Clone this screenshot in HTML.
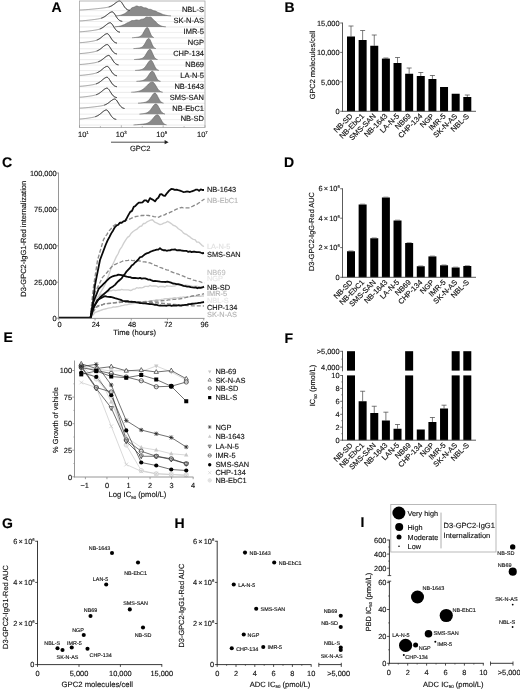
<!DOCTYPE html>
<html lang="en"><head><meta charset="utf-8"><title>Figure</title>
<style>
html,body{margin:0;padding:0;background:#fff;}
body{width:520px;height:689px;overflow:hidden;}
svg{display:block;font-family:"Liberation Sans",sans-serif;text-rendering:geometricPrecision;}
text{stroke-width:0.14px;paint-order:stroke;}
</style></head><body>
<svg width="520" height="689" viewBox="0 0 520 689">
<rect width="520" height="689" fill="#ffffff"/>
<g style="filter:blur(0.35px)">
<text x="51.40" y="11.60" font-size="14" font-weight="bold" fill="#000" stroke="#000">A</text>
<text x="284.60" y="11.60" font-size="14" font-weight="bold" fill="#000" stroke="#000">B</text>
<text x="1.90" y="167.10" font-size="14" font-weight="bold" fill="#000" stroke="#000">C</text>
<text x="284.10" y="167.10" font-size="14" font-weight="bold" fill="#000" stroke="#000">D</text>
<text x="3.50" y="342.10" font-size="14" font-weight="bold" fill="#000" stroke="#000">E</text>
<text x="284.50" y="343.10" font-size="14" font-weight="bold" fill="#000" stroke="#000">F</text>
<text x="2.00" y="527.60" font-size="14" font-weight="bold" fill="#000" stroke="#000">G</text>
<text x="174.50" y="527.60" font-size="14" font-weight="bold" fill="#000" stroke="#000">H</text>
<text x="360.40" y="527.10" font-size="14" font-weight="bold" fill="#000" stroke="#000">I</text>
<g id="panelA">
<line x1="79.50" y1="10.60" x2="205.00" y2="10.60" stroke="#dedede" stroke-width="0.5"/>
<line x1="79.50" y1="16.05" x2="205.00" y2="16.05" stroke="#d4d4d4" stroke-width="0.5"/>
<line x1="79.50" y1="21.50" x2="205.00" y2="21.50" stroke="#dedede" stroke-width="0.5"/>
<line x1="79.50" y1="26.95" x2="205.00" y2="26.95" stroke="#d4d4d4" stroke-width="0.5"/>
<line x1="79.50" y1="32.40" x2="205.00" y2="32.40" stroke="#dedede" stroke-width="0.5"/>
<line x1="79.50" y1="37.85" x2="205.00" y2="37.85" stroke="#d4d4d4" stroke-width="0.5"/>
<line x1="79.50" y1="43.30" x2="205.00" y2="43.30" stroke="#dedede" stroke-width="0.5"/>
<line x1="79.50" y1="48.75" x2="205.00" y2="48.75" stroke="#d4d4d4" stroke-width="0.5"/>
<line x1="79.50" y1="54.20" x2="205.00" y2="54.20" stroke="#dedede" stroke-width="0.5"/>
<line x1="79.50" y1="59.65" x2="205.00" y2="59.65" stroke="#d4d4d4" stroke-width="0.5"/>
<line x1="79.50" y1="65.10" x2="205.00" y2="65.10" stroke="#dedede" stroke-width="0.5"/>
<line x1="79.50" y1="70.55" x2="205.00" y2="70.55" stroke="#d4d4d4" stroke-width="0.5"/>
<line x1="79.50" y1="76.00" x2="205.00" y2="76.00" stroke="#dedede" stroke-width="0.5"/>
<line x1="79.50" y1="81.45" x2="205.00" y2="81.45" stroke="#d4d4d4" stroke-width="0.5"/>
<line x1="79.50" y1="86.90" x2="205.00" y2="86.90" stroke="#dedede" stroke-width="0.5"/>
<line x1="79.50" y1="92.35" x2="205.00" y2="92.35" stroke="#d4d4d4" stroke-width="0.5"/>
<line x1="79.50" y1="97.80" x2="205.00" y2="97.80" stroke="#dedede" stroke-width="0.5"/>
<line x1="79.50" y1="103.25" x2="205.00" y2="103.25" stroke="#d4d4d4" stroke-width="0.5"/>
<line x1="79.50" y1="108.70" x2="205.00" y2="108.70" stroke="#dedede" stroke-width="0.5"/>
<line x1="79.50" y1="114.15" x2="205.00" y2="114.15" stroke="#d4d4d4" stroke-width="0.5"/>
<line x1="79.50" y1="119.60" x2="205.00" y2="119.60" stroke="#dedede" stroke-width="0.5"/>
<line x1="79.50" y1="125.05" x2="205.00" y2="125.05" stroke="#d4d4d4" stroke-width="0.5"/>
<polygon points="115.50,16.05 115.50,15.92 116.25,15.87 117.00,15.81 117.75,15.73 118.50,15.64 119.25,15.53 120.00,15.39 120.75,15.19 121.50,14.93 122.25,14.65 123.00,14.37 123.75,14.07 124.50,13.71 125.25,13.23 126.00,12.64 126.75,12.02 127.50,11.47 128.25,11.01 129.00,10.54 129.75,9.92 130.50,9.14 131.25,8.35 132.00,7.77 132.75,7.47 133.50,7.32 134.25,7.07 135.00,6.64 135.75,6.18 136.50,5.94 137.25,6.04 138.00,6.36 138.75,6.63 139.50,6.66 140.25,6.52 141.00,6.44 141.75,6.64 142.50,7.08 143.25,7.55 144.00,7.83 144.75,7.87 145.50,7.85 146.25,7.99 147.00,8.34 147.75,8.80 148.50,9.15 149.25,9.30 150.00,9.31 150.75,9.38 151.50,9.64 152.25,10.05 153.00,10.45 153.75,10.71 154.50,10.86 155.25,11.00 156.00,11.28 156.75,11.70 157.50,12.17 158.25,12.56 159.00,12.85 159.75,13.09 160.50,13.37 161.25,13.71 162.00,14.08 162.75,14.40 163.50,14.64 164.25,14.83 165.00,15.01 165.75,15.18 166.50,15.36 167.25,15.51 168.00,15.63 168.75,15.71 169.50,15.78 170.25,15.83 171.00,15.89 171.00,16.05" fill="#8a8a8a"/>
<polyline points="115.50,15.92 116.25,15.87 117.00,15.81 117.75,15.73 118.50,15.64 119.25,15.53 120.00,15.39 120.75,15.19 121.50,14.93 122.25,14.65 123.00,14.37 123.75,14.07 124.50,13.71 125.25,13.23 126.00,12.64 126.75,12.02 127.50,11.47 128.25,11.01 129.00,10.54 129.75,9.92 130.50,9.14 131.25,8.35 132.00,7.77 132.75,7.47 133.50,7.32 134.25,7.07 135.00,6.64 135.75,6.18 136.50,5.94 137.25,6.04 138.00,6.36 138.75,6.63 139.50,6.66 140.25,6.52 141.00,6.44 141.75,6.64 142.50,7.08 143.25,7.55 144.00,7.83 144.75,7.87 145.50,7.85 146.25,7.99 147.00,8.34 147.75,8.80 148.50,9.15 149.25,9.30 150.00,9.31 150.75,9.38 151.50,9.64 152.25,10.05 153.00,10.45 153.75,10.71 154.50,10.86 155.25,11.00 156.00,11.28 156.75,11.70 157.50,12.17 158.25,12.56 159.00,12.85 159.75,13.09 160.50,13.37 161.25,13.71 162.00,14.08 162.75,14.40 163.50,14.64 164.25,14.83 165.00,15.01 165.75,15.18 166.50,15.36 167.25,15.51 168.00,15.63 168.75,15.71 169.50,15.78 170.25,15.83 171.00,15.89" fill="none" stroke="#5e5e5e" stroke-width="0.6" stroke-linejoin="round"/>
<polygon points="114.75,26.95 114.75,26.81 115.50,26.76 116.25,26.69 117.00,26.61 117.75,26.51 118.50,26.41 119.25,26.29 120.00,26.12 120.75,25.90 121.50,25.64 122.25,25.36 123.00,25.10 123.75,24.84 124.50,24.52 125.25,24.11 126.00,23.62 126.75,23.14 127.50,22.75 128.25,22.47 129.00,22.19 129.75,21.81 130.50,21.33 131.25,20.86 132.00,20.58 132.75,20.51 133.50,20.55 134.25,20.50 135.00,20.30 135.75,20.05 136.50,19.91 137.25,19.99 138.00,20.18 138.75,20.28 139.50,20.16 140.25,19.83 141.00,19.47 141.75,19.23 142.50,19.15 143.25,19.06 144.00,18.77 144.75,18.23 145.50,17.60 146.25,17.15 147.00,17.04 147.75,17.17 148.50,17.27 149.25,17.20 150.00,17.05 150.75,17.13 151.50,17.62 152.25,18.45 153.00,19.33 153.75,20.08 154.50,20.69 155.25,21.32 156.00,22.07 156.75,22.92 157.50,23.72 158.25,24.37 159.00,24.87 159.75,25.27 160.50,25.63 161.25,25.96 162.00,26.24 162.75,26.45 163.50,26.59 164.25,26.69 165.00,26.77 165.75,26.83 165.75,26.95" fill="#8a8a8a"/>
<polyline points="114.75,26.81 115.50,26.76 116.25,26.69 117.00,26.61 117.75,26.51 118.50,26.41 119.25,26.29 120.00,26.12 120.75,25.90 121.50,25.64 122.25,25.36 123.00,25.10 123.75,24.84 124.50,24.52 125.25,24.11 126.00,23.62 126.75,23.14 127.50,22.75 128.25,22.47 129.00,22.19 129.75,21.81 130.50,21.33 131.25,20.86 132.00,20.58 132.75,20.51 133.50,20.55 134.25,20.50 135.00,20.30 135.75,20.05 136.50,19.91 137.25,19.99 138.00,20.18 138.75,20.28 139.50,20.16 140.25,19.83 141.00,19.47 141.75,19.23 142.50,19.15 143.25,19.06 144.00,18.77 144.75,18.23 145.50,17.60 146.25,17.15 147.00,17.04 147.75,17.17 148.50,17.27 149.25,17.20 150.00,17.05 150.75,17.13 151.50,17.62 152.25,18.45 153.00,19.33 153.75,20.08 154.50,20.69 155.25,21.32 156.00,22.07 156.75,22.92 157.50,23.72 158.25,24.37 159.00,24.87 159.75,25.27 160.50,25.63 161.25,25.96 162.00,26.24 162.75,26.45 163.50,26.59 164.25,26.69 165.00,26.77 165.75,26.83" fill="none" stroke="#5e5e5e" stroke-width="0.6" stroke-linejoin="round"/>
<polygon points="132.00,37.85 132.00,37.73 132.75,37.69 133.50,37.64 134.25,37.58 135.00,37.51 135.75,37.43 136.50,37.34 137.25,37.24 138.00,37.11 138.75,36.95 139.50,36.72 140.25,36.37 141.00,35.87 141.75,35.14 142.50,34.18 143.25,32.97 144.00,31.60 144.75,30.17 145.50,28.88 146.25,27.93 147.00,27.49 147.75,27.70 148.50,28.78 149.25,30.49 150.00,32.42 150.75,34.21 151.50,35.63 152.25,36.62 153.00,37.23 153.75,37.57 153.75,37.85" fill="#8a8a8a"/>
<polyline points="132.00,37.73 132.75,37.69 133.50,37.64 134.25,37.58 135.00,37.51 135.75,37.43 136.50,37.34 137.25,37.24 138.00,37.11 138.75,36.95 139.50,36.72 140.25,36.37 141.00,35.87 141.75,35.14 142.50,34.18 143.25,32.97 144.00,31.60 144.75,30.17 145.50,28.88 146.25,27.93 147.00,27.49 147.75,27.70 148.50,28.78 149.25,30.49 150.00,32.42 150.75,34.21 151.50,35.63 152.25,36.62 153.00,37.23 153.75,37.57" fill="none" stroke="#5e5e5e" stroke-width="0.6" stroke-linejoin="round"/>
<polygon points="133.50,48.75 133.50,48.60 134.25,48.56 135.00,48.50 135.75,48.43 136.50,48.36 137.25,48.28 138.00,48.19 138.75,48.09 139.50,47.96 140.25,47.80 141.00,47.58 141.75,47.25 142.50,46.75 143.25,46.05 144.00,45.10 144.75,43.91 145.50,42.55 146.25,41.13 147.00,39.85 147.75,38.90 148.50,38.45 149.25,38.65 150.00,39.64 150.75,41.24 151.50,43.07 152.25,44.83 153.00,46.27 153.75,47.32 154.50,47.99 155.25,48.38 156.00,48.59 156.00,48.75" fill="#8a8a8a"/>
<polyline points="133.50,48.60 134.25,48.56 135.00,48.50 135.75,48.43 136.50,48.36 137.25,48.28 138.00,48.19 138.75,48.09 139.50,47.96 140.25,47.80 141.00,47.58 141.75,47.25 142.50,46.75 143.25,46.05 144.00,45.10 144.75,43.91 145.50,42.55 146.25,41.13 147.00,39.85 147.75,38.90 148.50,38.45 149.25,38.65 150.00,39.64 150.75,41.24 151.50,43.07 152.25,44.83 153.00,46.27 153.75,47.32 154.50,47.99 155.25,48.38 156.00,48.59" fill="none" stroke="#5e5e5e" stroke-width="0.6" stroke-linejoin="round"/>
<polygon points="134.25,59.65 134.25,59.52 135.00,59.47 135.75,59.42 136.50,59.36 137.25,59.28 138.00,59.20 138.75,59.11 139.50,59.00 140.25,58.87 141.00,58.71 141.75,58.48 142.50,58.15 143.25,57.68 144.00,57.03 144.75,56.16 145.50,55.09 146.25,53.85 147.00,52.53 147.75,51.26 148.50,50.21 149.25,49.54 150.00,49.36 150.75,49.84 151.50,51.03 152.25,52.67 153.00,54.44 153.75,56.07 154.50,57.39 155.25,58.33 156.00,58.94 156.75,59.30 157.50,59.49 157.50,59.65" fill="#8a8a8a"/>
<polyline points="134.25,59.52 135.00,59.47 135.75,59.42 136.50,59.36 137.25,59.28 138.00,59.20 138.75,59.11 139.50,59.00 140.25,58.87 141.00,58.71 141.75,58.48 142.50,58.15 143.25,57.68 144.00,57.03 144.75,56.16 145.50,55.09 146.25,53.85 147.00,52.53 147.75,51.26 148.50,50.21 149.25,49.54 150.00,49.36 150.75,49.84 151.50,51.03 152.25,52.67 153.00,54.44 153.75,56.07 154.50,57.39 155.25,58.33 156.00,58.94 156.75,59.30 157.50,59.49" fill="none" stroke="#5e5e5e" stroke-width="0.6" stroke-linejoin="round"/>
<polygon points="135.00,70.55 135.00,70.43 135.75,70.39 136.50,70.33 137.25,70.27 138.00,70.20 138.75,70.11 139.50,70.00 140.25,69.86 141.00,69.69 141.75,69.45 142.50,69.14 143.25,68.72 144.00,68.16 144.75,67.44 145.50,66.54 146.25,65.51 147.00,64.36 147.75,63.19 148.50,62.08 149.25,61.15 150.00,60.52 150.75,60.25 151.50,60.47 152.25,61.32 153.00,62.68 153.75,64.29 154.50,65.92 155.25,67.36 156.00,68.50 156.75,69.32 157.50,69.87 158.25,70.20 159.00,70.38 159.00,70.55" fill="#8a8a8a"/>
<polyline points="135.00,70.43 135.75,70.39 136.50,70.33 137.25,70.27 138.00,70.20 138.75,70.11 139.50,70.00 140.25,69.86 141.00,69.69 141.75,69.45 142.50,69.14 143.25,68.72 144.00,68.16 144.75,67.44 145.50,66.54 146.25,65.51 147.00,64.36 147.75,63.19 148.50,62.08 149.25,61.15 150.00,60.52 150.75,60.25 151.50,60.47 152.25,61.32 153.00,62.68 153.75,64.29 154.50,65.92 155.25,67.36 156.00,68.50 156.75,69.32 157.50,69.87 158.25,70.20 159.00,70.38" fill="none" stroke="#5e5e5e" stroke-width="0.6" stroke-linejoin="round"/>
<polygon points="136.50,81.45 136.50,81.30 137.25,81.25 138.00,81.20 138.75,81.13 139.50,81.05 140.25,80.95 141.00,80.84 141.75,80.71 142.50,80.53 143.25,80.31 144.00,80.00 144.75,79.59 145.50,79.04 146.25,78.34 147.00,77.46 147.75,76.44 148.50,75.32 149.25,74.15 150.00,73.05 150.75,72.12 151.50,71.48 152.25,71.21 153.00,71.41 153.75,72.26 154.50,73.61 155.25,75.21 156.00,76.83 156.75,78.27 157.50,79.41 158.25,80.23 159.00,80.77 159.75,81.10 160.50,81.28 160.50,81.45" fill="#8a8a8a"/>
<polyline points="136.50,81.30 137.25,81.25 138.00,81.20 138.75,81.13 139.50,81.05 140.25,80.95 141.00,80.84 141.75,80.71 142.50,80.53 143.25,80.31 144.00,80.00 144.75,79.59 145.50,79.04 146.25,78.34 147.00,77.46 147.75,76.44 148.50,75.32 149.25,74.15 150.00,73.05 150.75,72.12 151.50,71.48 152.25,71.21 153.00,71.41 153.75,72.26 154.50,73.61 155.25,75.21 156.00,76.83 156.75,78.27 157.50,79.41 158.25,80.23 159.00,80.77 159.75,81.10 160.50,81.28" fill="none" stroke="#5e5e5e" stroke-width="0.6" stroke-linejoin="round"/>
<polygon points="131.25,92.35 131.25,92.22 132.00,92.18 132.75,92.14 133.50,92.08 134.25,92.01 135.00,91.93 135.75,91.83 136.50,91.71 137.25,91.58 138.00,91.42 138.75,91.23 139.50,91.00 140.25,90.74 141.00,90.42 141.75,90.05 142.50,89.61 143.25,89.10 144.00,88.52 144.75,87.87 145.50,87.16 146.25,86.41 147.00,85.63 147.75,84.86 148.50,84.11 149.25,83.43 150.00,82.86 150.75,82.42 151.50,82.14 152.25,82.05 153.00,82.21 153.75,82.76 154.50,83.65 155.25,84.79 156.00,86.05 156.75,87.32 157.50,88.51 158.25,89.54 159.00,90.38 159.75,91.03 160.50,91.50 161.25,91.83 162.00,92.04 162.75,92.18 162.75,92.35" fill="#8a8a8a"/>
<polyline points="131.25,92.22 132.00,92.18 132.75,92.14 133.50,92.08 134.25,92.01 135.00,91.93 135.75,91.83 136.50,91.71 137.25,91.58 138.00,91.42 138.75,91.23 139.50,91.00 140.25,90.74 141.00,90.42 141.75,90.05 142.50,89.61 143.25,89.10 144.00,88.52 144.75,87.87 145.50,87.16 146.25,86.41 147.00,85.63 147.75,84.86 148.50,84.11 149.25,83.43 150.00,82.86 150.75,82.42 151.50,82.14 152.25,82.05 153.00,82.21 153.75,82.76 154.50,83.65 155.25,84.79 156.00,86.05 156.75,87.32 157.50,88.51 158.25,89.54 159.00,90.38 159.75,91.03 160.50,91.50 161.25,91.83 162.00,92.04 162.75,92.18" fill="none" stroke="#5e5e5e" stroke-width="0.6" stroke-linejoin="round"/>
<polygon points="138.00,103.25 138.00,103.13 138.75,103.09 139.50,103.04 140.25,102.98 141.00,102.91 141.75,102.83 142.50,102.73 143.25,102.63 144.00,102.50 144.75,102.35 145.50,102.15 146.25,101.88 147.00,101.52 147.75,101.03 148.50,100.40 149.25,99.60 150.00,98.64 150.75,97.56 151.50,96.40 152.25,95.27 153.00,94.27 153.75,93.51 154.50,93.11 155.25,93.11 156.00,93.67 156.75,94.73 157.50,96.13 158.25,97.66 159.00,99.12 159.75,100.38 160.50,101.38 161.25,102.10 162.00,102.59 162.75,102.89 163.50,103.07 163.50,103.25" fill="#8a8a8a"/>
<polyline points="138.00,103.13 138.75,103.09 139.50,103.04 140.25,102.98 141.00,102.91 141.75,102.83 142.50,102.73 143.25,102.63 144.00,102.50 144.75,102.35 145.50,102.15 146.25,101.88 147.00,101.52 147.75,101.03 148.50,100.40 149.25,99.60 150.00,98.64 150.75,97.56 151.50,96.40 152.25,95.27 153.00,94.27 153.75,93.51 154.50,93.11 155.25,93.11 156.00,93.67 156.75,94.73 157.50,96.13 158.25,97.66 159.00,99.12 159.75,100.38 160.50,101.38 161.25,102.10 162.00,102.59 162.75,102.89 163.50,103.07" fill="none" stroke="#5e5e5e" stroke-width="0.6" stroke-linejoin="round"/>
<polygon points="139.50,114.15 139.50,114.00 140.25,113.95 141.00,113.90 141.75,113.83 142.50,113.75 143.25,113.65 144.00,113.54 144.75,113.40 145.50,113.23 146.25,113.00 147.00,112.71 147.75,112.33 148.50,111.83 149.25,111.19 150.00,110.40 150.75,109.48 151.50,108.45 152.25,107.36 153.00,106.28 153.75,105.31 154.50,104.55 155.25,104.08 156.00,103.96 156.75,104.28 157.50,105.10 158.25,106.28 159.00,107.67 159.75,109.09 160.50,110.42 161.25,111.54 162.00,112.42 162.75,113.07 163.50,113.51 164.25,113.79 165.00,113.96 165.00,114.15" fill="#8a8a8a"/>
<polyline points="139.50,114.00 140.25,113.95 141.00,113.90 141.75,113.83 142.50,113.75 143.25,113.65 144.00,113.54 144.75,113.40 145.50,113.23 146.25,113.00 147.00,112.71 147.75,112.33 148.50,111.83 149.25,111.19 150.00,110.40 150.75,109.48 151.50,108.45 152.25,107.36 153.00,106.28 153.75,105.31 154.50,104.55 155.25,104.08 156.00,103.96 156.75,104.28 157.50,105.10 158.25,106.28 159.00,107.67 159.75,109.09 160.50,110.42 161.25,111.54 162.00,112.42 162.75,113.07 163.50,113.51 164.25,113.79 165.00,113.96" fill="none" stroke="#5e5e5e" stroke-width="0.6" stroke-linejoin="round"/>
<polygon points="133.50,125.05 133.50,124.91 134.25,124.88 135.00,124.84 135.75,124.79 136.50,124.74 137.25,124.68 138.00,124.62 138.75,124.55 139.50,124.47 140.25,124.40 141.00,124.31 141.75,124.23 142.50,124.14 143.25,124.04 144.00,123.94 144.75,123.82 145.50,123.68 146.25,123.51 147.00,123.28 147.75,122.99 148.50,122.62 149.25,122.16 150.00,121.60 150.75,120.94 151.50,120.16 152.25,119.31 153.00,118.39 153.75,117.48 154.50,116.61 155.25,115.86 156.00,115.28 156.75,114.93 157.50,114.85 158.25,115.17 159.00,115.98 159.75,117.16 160.50,118.55 161.25,119.98 162.00,121.31 162.75,122.43 163.50,123.32 164.25,123.96 165.00,124.40 165.75,124.69 166.50,124.86 166.50,125.05" fill="#8a8a8a"/>
<polyline points="133.50,124.91 134.25,124.88 135.00,124.84 135.75,124.79 136.50,124.74 137.25,124.68 138.00,124.62 138.75,124.55 139.50,124.47 140.25,124.40 141.00,124.31 141.75,124.23 142.50,124.14 143.25,124.04 144.00,123.94 144.75,123.82 145.50,123.68 146.25,123.51 147.00,123.28 147.75,122.99 148.50,122.62 149.25,122.16 150.00,121.60 150.75,120.94 151.50,120.16 152.25,119.31 153.00,118.39 153.75,117.48 154.50,116.61 155.25,115.86 156.00,115.28 156.75,114.93 157.50,114.85 158.25,115.17 159.00,115.98 159.75,117.16 160.50,118.55 161.25,119.98 162.00,121.31 162.75,122.43 163.50,123.32 164.25,123.96 165.00,124.40 165.75,124.69 166.50,124.86" fill="none" stroke="#5e5e5e" stroke-width="0.6" stroke-linejoin="round"/>
<polyline points="79.50,10.00 80.25,9.98 81.00,9.96 81.75,9.93 82.50,9.89 83.25,9.85 84.00,9.80 84.75,9.76 85.50,9.71 86.25,9.65 87.00,9.60 87.75,9.54 88.50,9.48 89.25,9.42 90.00,9.35 90.75,9.29 91.50,9.22 92.25,9.15 93.00,9.08 93.75,9.01 94.50,8.94 95.25,8.86 96.00,8.78 96.75,8.71 97.50,8.63 98.25,8.55 99.00,8.46 99.75,8.38 100.50,8.30 101.25,8.21 102.00,8.12 102.75,8.03 103.50,7.93 104.25,7.84 105.00,7.73 105.75,7.61 106.50,7.49 107.25,7.34 108.00,7.17 108.75,6.97 109.50,6.73 110.25,6.44 111.00,6.11 111.75,5.71 112.50,5.25 113.25,4.74 114.00,4.19 114.75,3.61 115.50,3.02 116.25,2.45 117.00,1.94 117.75,1.50 118.50,1.16 119.25,0.94 120.00,0.99 120.75,1.47 121.50,2.29 122.25,3.35 123.00,4.55 123.75,5.77 124.50,6.90 125.25,7.89 126.00,8.70 126.75,9.32 127.50,9.78 128.25,10.09 129.00,10.30 129.75,10.43" fill="none" stroke="#7a7a7a" stroke-width="0.7" stroke-linejoin="round"/>
<polyline points="108.75,6.97 109.50,6.73 110.25,6.44 111.00,6.11 111.75,5.71 112.50,5.25 113.25,4.74 114.00,4.19 114.75,3.61 115.50,3.02 116.25,2.45 117.00,1.94 117.75,1.50 118.50,1.16 119.25,0.94 120.00,0.99 120.75,1.47 121.50,2.29 122.25,3.35 123.00,4.55 123.75,5.77 124.50,6.90 125.25,7.89 126.00,8.70 126.75,9.32 127.50,9.78 128.25,10.09 129.00,10.30 129.75,10.43" fill="none" stroke="#333333" stroke-width="0.8" stroke-linejoin="round"/>
<polyline points="79.50,20.90 80.25,20.88 81.00,20.84 81.75,20.80 82.50,20.75 83.25,20.70 84.00,20.64 84.75,20.57 85.50,20.51 86.25,20.43 87.00,20.36 87.75,20.28 88.50,20.20 89.25,20.12 90.00,20.04 90.75,19.95 91.50,19.86 92.25,19.77 93.00,19.67 93.75,19.57 94.50,19.47 95.25,19.37 96.00,19.26 96.75,19.15 97.50,19.03 98.25,18.90 99.00,18.76 99.75,18.59 100.50,18.41 101.25,18.19 102.00,17.93 102.75,17.62 103.50,17.26 104.25,16.85 105.00,16.37 105.75,15.84 106.50,15.26 107.25,14.66 108.00,14.05 108.75,13.46 109.50,12.92 110.25,12.46 111.00,12.09 111.75,11.85 112.50,11.89 113.25,12.37 114.00,13.19 114.75,14.25 115.50,15.45 116.25,16.67 117.00,17.80 117.75,18.79 118.50,19.60 119.25,20.22 120.00,20.68 120.75,20.99 121.50,21.20 122.25,21.33" fill="none" stroke="#7a7a7a" stroke-width="0.7" stroke-linejoin="round"/>
<polyline points="101.25,18.19 102.00,17.93 102.75,17.62 103.50,17.26 104.25,16.85 105.00,16.37 105.75,15.84 106.50,15.26 107.25,14.66 108.00,14.05 108.75,13.46 109.50,12.92 110.25,12.46 111.00,12.09 111.75,11.85 112.50,11.89 113.25,12.37 114.00,13.19 114.75,14.25 115.50,15.45 116.25,16.67 117.00,17.80 117.75,18.79 118.50,19.60 119.25,20.22 120.00,20.68 120.75,20.99 121.50,21.20 122.25,21.33" fill="none" stroke="#333333" stroke-width="0.8" stroke-linejoin="round"/>
<polyline points="79.50,31.80 80.25,31.78 81.00,31.74 81.75,31.69 82.50,31.64 83.25,31.58 84.00,31.51 84.75,31.44 85.50,31.37 86.25,31.29 87.00,31.21 87.75,31.13 88.50,31.04 89.25,30.95 90.00,30.86 90.75,30.76 91.50,30.66 92.25,30.56 93.00,30.45 93.75,30.34 94.50,30.23 95.25,30.11 96.00,29.98 96.75,29.83 97.50,29.67 98.25,29.49 99.00,29.27 99.75,29.02 100.50,28.73 101.25,28.38 102.00,27.98 102.75,27.51 103.50,26.99 104.25,26.42 105.00,25.82 105.75,25.20 106.50,24.59 107.25,24.02 108.00,23.52 108.75,23.12 109.50,22.82 110.25,22.72 111.00,23.07 111.75,23.78 112.50,24.78 113.25,25.95 114.00,27.17 114.75,28.34 115.50,29.38 116.25,30.25 117.00,30.94 117.75,31.44 118.50,31.80 119.25,32.04 120.00,32.20" fill="none" stroke="#7a7a7a" stroke-width="0.7" stroke-linejoin="round"/>
<polyline points="99.75,29.02 100.50,28.73 101.25,28.38 102.00,27.98 102.75,27.51 103.50,26.99 104.25,26.42 105.00,25.82 105.75,25.20 106.50,24.59 107.25,24.02 108.00,23.52 108.75,23.12 109.50,22.82 110.25,22.72 111.00,23.07 111.75,23.78 112.50,24.78 113.25,25.95 114.00,27.17 114.75,28.34 115.50,29.38 116.25,30.25 117.00,30.94 117.75,31.44 118.50,31.80 119.25,32.04 120.00,32.20" fill="none" stroke="#333333" stroke-width="0.8" stroke-linejoin="round"/>
<polyline points="79.50,42.70 80.25,42.67 81.00,42.63 81.75,42.57 82.50,42.51 83.25,42.44 84.00,42.37 84.75,42.29 85.50,42.20 86.25,42.11 87.00,42.02 87.75,41.92 88.50,41.82 89.25,41.71 90.00,41.60 90.75,41.49 91.50,41.37 92.25,41.24 93.00,41.10 93.75,40.95 94.50,40.78 95.25,40.59 96.00,40.36 96.75,40.10 97.50,39.80 98.25,39.44 99.00,39.02 99.75,38.55 100.50,38.02 101.25,37.43 102.00,36.81 102.75,36.18 103.50,35.56 104.25,34.98 105.00,34.46 105.75,34.04 106.50,33.74 107.25,33.62 108.00,33.97 108.75,34.68 109.50,35.68 110.25,36.85 111.00,38.07 111.75,39.24 112.50,40.28 113.25,41.15 114.00,41.84 114.75,42.34 115.50,42.70 116.25,42.94 117.00,43.10" fill="none" stroke="#7a7a7a" stroke-width="0.7" stroke-linejoin="round"/>
<polyline points="96.75,40.10 97.50,39.80 98.25,39.44 99.00,39.02 99.75,38.55 100.50,38.02 101.25,37.43 102.00,36.81 102.75,36.18 103.50,35.56 104.25,34.98 105.00,34.46 105.75,34.04 106.50,33.74 107.25,33.62 108.00,33.97 108.75,34.68 109.50,35.68 110.25,36.85 111.00,38.07 111.75,39.24 112.50,40.28 113.25,41.15 114.00,41.84 114.75,42.34 115.50,42.70 116.25,42.94 117.00,43.10" fill="none" stroke="#333333" stroke-width="0.8" stroke-linejoin="round"/>
<polyline points="79.50,53.60 80.25,53.57 81.00,53.53 81.75,53.47 82.50,53.41 83.25,53.34 84.00,53.27 84.75,53.19 85.50,53.10 86.25,53.01 87.00,52.92 87.75,52.82 88.50,52.72 89.25,52.61 90.00,52.50 90.75,52.39 91.50,52.27 92.25,52.14 93.00,52.00 93.75,51.85 94.50,51.68 95.25,51.49 96.00,51.26 96.75,51.00 97.50,50.70 98.25,50.34 99.00,49.92 99.75,49.45 100.50,48.92 101.25,48.33 102.00,47.71 102.75,47.08 103.50,46.46 104.25,45.88 105.00,45.36 105.75,44.94 106.50,44.64 107.25,44.52 108.00,44.87 108.75,45.58 109.50,46.58 110.25,47.75 111.00,48.97 111.75,50.14 112.50,51.18 113.25,52.05 114.00,52.74 114.75,53.24 115.50,53.60 116.25,53.84 117.00,54.00" fill="none" stroke="#7a7a7a" stroke-width="0.7" stroke-linejoin="round"/>
<polyline points="96.75,51.00 97.50,50.70 98.25,50.34 99.00,49.92 99.75,49.45 100.50,48.92 101.25,48.33 102.00,47.71 102.75,47.08 103.50,46.46 104.25,45.88 105.00,45.36 105.75,44.94 106.50,44.64 107.25,44.52 108.00,44.87 108.75,45.58 109.50,46.58 110.25,47.75 111.00,48.97 111.75,50.14 112.50,51.18 113.25,52.05 114.00,52.74 114.75,53.24 115.50,53.60 116.25,53.84 117.00,54.00" fill="none" stroke="#333333" stroke-width="0.8" stroke-linejoin="round"/>
<polyline points="79.50,64.50 80.25,64.47 81.00,64.43 81.75,64.38 82.50,64.32 83.25,64.26 84.00,64.19 84.75,64.12 85.50,64.04 86.25,63.95 87.00,63.87 87.75,63.78 88.50,63.68 89.25,63.59 90.00,63.49 90.75,63.38 91.50,63.27 92.25,63.16 93.00,63.04 93.75,62.92 94.50,62.78 95.25,62.64 96.00,62.47 96.75,62.28 97.50,62.07 98.25,61.81 99.00,61.51 99.75,61.16 100.50,60.75 101.25,60.28 102.00,59.75 102.75,59.17 103.50,58.56 104.25,57.94 105.00,57.32 105.75,56.75 106.50,56.24 107.25,55.83 108.00,55.53 108.75,55.42 109.50,55.77 110.25,56.48 111.00,57.48 111.75,58.65 112.50,59.87 113.25,61.04 114.00,62.08 114.75,62.95 115.50,63.64 116.25,64.14 117.00,64.50 117.75,64.74 118.50,64.90" fill="none" stroke="#7a7a7a" stroke-width="0.7" stroke-linejoin="round"/>
<polyline points="98.25,61.81 99.00,61.51 99.75,61.16 100.50,60.75 101.25,60.28 102.00,59.75 102.75,59.17 103.50,58.56 104.25,57.94 105.00,57.32 105.75,56.75 106.50,56.24 107.25,55.83 108.00,55.53 108.75,55.42 109.50,55.77 110.25,56.48 111.00,57.48 111.75,58.65 112.50,59.87 113.25,61.04 114.00,62.08 114.75,62.95 115.50,63.64 116.25,64.14 117.00,64.50 117.75,64.74 118.50,64.90" fill="none" stroke="#333333" stroke-width="0.8" stroke-linejoin="round"/>
<polyline points="79.50,75.40 80.25,75.37 81.00,75.33 81.75,75.27 82.50,75.21 83.25,75.14 84.00,75.07 84.75,74.99 85.50,74.90 86.25,74.81 87.00,74.72 87.75,74.62 88.50,74.52 89.25,74.41 90.00,74.30 90.75,74.19 91.50,74.07 92.25,73.94 93.00,73.80 93.75,73.65 94.50,73.48 95.25,73.29 96.00,73.06 96.75,72.80 97.50,72.50 98.25,72.14 99.00,71.72 99.75,71.25 100.50,70.72 101.25,70.13 102.00,69.51 102.75,68.88 103.50,68.26 104.25,67.68 105.00,67.16 105.75,66.74 106.50,66.44 107.25,66.32 108.00,66.67 108.75,67.38 109.50,68.38 110.25,69.55 111.00,70.77 111.75,71.94 112.50,72.98 113.25,73.85 114.00,74.54 114.75,75.04 115.50,75.40 116.25,75.64 117.00,75.80" fill="none" stroke="#7a7a7a" stroke-width="0.7" stroke-linejoin="round"/>
<polyline points="96.75,72.80 97.50,72.50 98.25,72.14 99.00,71.72 99.75,71.25 100.50,70.72 101.25,70.13 102.00,69.51 102.75,68.88 103.50,68.26 104.25,67.68 105.00,67.16 105.75,66.74 106.50,66.44 107.25,66.32 108.00,66.67 108.75,67.38 109.50,68.38 110.25,69.55 111.00,70.77 111.75,71.94 112.50,72.98 113.25,73.85 114.00,74.54 114.75,75.04 115.50,75.40 116.25,75.64 117.00,75.80" fill="none" stroke="#333333" stroke-width="0.8" stroke-linejoin="round"/>
<polyline points="79.50,86.30 80.25,86.27 81.00,86.23 81.75,86.17 82.50,86.11 83.25,86.04 84.00,85.96 84.75,85.88 85.50,85.80 86.25,85.71 87.00,85.61 87.75,85.51 88.50,85.41 89.25,85.30 90.00,85.19 90.75,85.07 91.50,84.95 92.25,84.82 93.00,84.68 93.75,84.52 94.50,84.35 95.25,84.15 96.00,83.91 96.75,83.64 97.50,83.32 98.25,82.95 99.00,82.51 99.75,82.02 100.50,81.47 101.25,80.88 102.00,80.25 102.75,79.62 103.50,79.00 104.25,78.44 105.00,77.94 105.75,77.55 106.50,77.27 107.25,77.28 108.00,77.72 108.75,78.52 109.50,79.58 110.25,80.77 111.00,81.99 111.75,83.13 112.50,84.13 113.25,84.95 114.00,85.59 114.75,86.05 115.50,86.38 116.25,86.59 117.00,86.72" fill="none" stroke="#7a7a7a" stroke-width="0.7" stroke-linejoin="round"/>
<polyline points="96.00,83.91 96.75,83.64 97.50,83.32 98.25,82.95 99.00,82.51 99.75,82.02 100.50,81.47 101.25,80.88 102.00,80.25 102.75,79.62 103.50,79.00 104.25,78.44 105.00,77.94 105.75,77.55 106.50,77.27 107.25,77.28 108.00,77.72 108.75,78.52 109.50,79.58 110.25,80.77 111.00,81.99 111.75,83.13 112.50,84.13 113.25,84.95 114.00,85.59 114.75,86.05 115.50,86.38 116.25,86.59 117.00,86.72" fill="none" stroke="#333333" stroke-width="0.8" stroke-linejoin="round"/>
<polyline points="79.50,97.20 80.25,97.17 81.00,97.13 81.75,97.07 82.50,97.01 83.25,96.94 84.00,96.86 84.75,96.78 85.50,96.70 86.25,96.61 87.00,96.51 87.75,96.41 88.50,96.31 89.25,96.20 90.00,96.09 90.75,95.97 91.50,95.85 92.25,95.72 93.00,95.58 93.75,95.42 94.50,95.25 95.25,95.05 96.00,94.81 96.75,94.54 97.50,94.22 98.25,93.85 99.00,93.41 99.75,92.92 100.50,92.37 101.25,91.78 102.00,91.15 102.75,90.52 103.50,89.90 104.25,89.34 105.00,88.84 105.75,88.45 106.50,88.17 107.25,88.18 108.00,88.62 108.75,89.42 109.50,90.48 110.25,91.67 111.00,92.89 111.75,94.03 112.50,95.03 113.25,95.85 114.00,96.49 114.75,96.95 115.50,97.28 116.25,97.49 117.00,97.62" fill="none" stroke="#7a7a7a" stroke-width="0.7" stroke-linejoin="round"/>
<polyline points="96.00,94.81 96.75,94.54 97.50,94.22 98.25,93.85 99.00,93.41 99.75,92.92 100.50,92.37 101.25,91.78 102.00,91.15 102.75,90.52 103.50,89.90 104.25,89.34 105.00,88.84 105.75,88.45 106.50,88.17 107.25,88.18 108.00,88.62 108.75,89.42 109.50,90.48 110.25,91.67 111.00,92.89 111.75,94.03 112.50,95.03 113.25,95.85 114.00,96.49 114.75,96.95 115.50,97.28 116.25,97.49 117.00,97.62" fill="none" stroke="#333333" stroke-width="0.8" stroke-linejoin="round"/>
<polyline points="79.50,108.10 80.25,108.08 81.00,108.05 81.75,108.01 82.50,107.97 83.25,107.92 84.00,107.86 84.75,107.81 85.50,107.75 86.25,107.68 87.00,107.62 87.75,107.55 88.50,107.48 89.25,107.40 90.00,107.32 90.75,107.25 91.50,107.17 92.25,107.08 93.00,107.00 93.75,106.91 94.50,106.82 95.25,106.73 96.00,106.64 96.75,106.54 97.50,106.45 98.25,106.35 99.00,106.24 99.75,106.13 100.50,106.01 101.25,105.88 102.00,105.73 102.75,105.56 103.50,105.37 104.25,105.13 105.00,104.86 105.75,104.53 106.50,104.15 107.25,103.71 108.00,103.21 108.75,102.66 109.50,102.08 110.25,101.48 111.00,100.88 111.75,100.33 112.50,99.83 113.25,99.43 114.00,99.14 114.75,99.01 115.50,99.30 116.25,99.97 117.00,100.93 117.75,102.09 118.50,103.31 119.25,104.49 120.00,105.55 120.75,106.45 121.50,107.15 122.25,107.69 123.00,108.06 123.75,108.32 124.50,108.48" fill="none" stroke="#7a7a7a" stroke-width="0.7" stroke-linejoin="round"/>
<polyline points="104.25,105.13 105.00,104.86 105.75,104.53 106.50,104.15 107.25,103.71 108.00,103.21 108.75,102.66 109.50,102.08 110.25,101.48 111.00,100.88 111.75,100.33 112.50,99.83 113.25,99.43 114.00,99.14 114.75,99.01 115.50,99.30 116.25,99.97 117.00,100.93 117.75,102.09 118.50,103.31 119.25,104.49 120.00,105.55 120.75,106.45 121.50,107.15 122.25,107.69 123.00,108.06 123.75,108.32 124.50,108.48" fill="none" stroke="#333333" stroke-width="0.8" stroke-linejoin="round"/>
<polyline points="79.50,119.00 80.25,118.97 81.00,118.93 81.75,118.87 82.50,118.80 83.25,118.73 84.00,118.65 84.75,118.57 85.50,118.48 86.25,118.39 87.00,118.29 87.75,118.19 88.50,118.08 89.25,117.97 90.00,117.85 90.75,117.73 91.50,117.60 92.25,117.46 93.00,117.30 93.75,117.13 94.50,116.93 95.25,116.71 96.00,116.44 96.75,116.13 97.50,115.76 98.25,115.34 99.00,114.86 99.75,114.31 100.50,113.73 101.25,113.10 102.00,112.47 102.75,111.84 103.50,111.26 104.25,110.74 105.00,110.33 105.75,110.02 106.50,109.93 107.25,110.30 108.00,111.04 108.75,112.05 109.50,113.23 110.25,114.45 111.00,115.61 111.75,116.64 112.50,117.50 113.25,118.17 114.00,118.67 114.75,119.02 115.50,119.26 116.25,119.40" fill="none" stroke="#7a7a7a" stroke-width="0.7" stroke-linejoin="round"/>
<polyline points="95.25,116.71 96.00,116.44 96.75,116.13 97.50,115.76 98.25,115.34 99.00,114.86 99.75,114.31 100.50,113.73 101.25,113.10 102.00,112.47 102.75,111.84 103.50,111.26 104.25,110.74 105.00,110.33 105.75,110.02 106.50,109.93 107.25,110.30 108.00,111.04 108.75,112.05 109.50,113.23 110.25,114.45 111.00,115.61 111.75,116.64 112.50,117.50 113.25,118.17 114.00,118.67 114.75,119.02 115.50,119.26 116.25,119.40" fill="none" stroke="#333333" stroke-width="0.8" stroke-linejoin="round"/>
<rect x="79.5" y="1.0" width="125.5" height="126.5" fill="none" stroke="#a6a6a6" stroke-width="0.8"/>
<text x="204.00" y="12.40" font-size="7.5" text-anchor="end" fill="#111" stroke="#111">NBL-S</text>
<text x="204.00" y="23.30" font-size="7.5" text-anchor="end" fill="#111" stroke="#111">SK-N-AS</text>
<text x="204.00" y="34.20" font-size="7.5" text-anchor="end" fill="#111" stroke="#111">IMR-5</text>
<text x="204.00" y="45.10" font-size="7.5" text-anchor="end" fill="#111" stroke="#111">NGP</text>
<text x="204.00" y="56.00" font-size="7.5" text-anchor="end" fill="#111" stroke="#111">CHP-134</text>
<text x="204.00" y="66.90" font-size="7.5" text-anchor="end" fill="#111" stroke="#111">NB69</text>
<text x="204.00" y="77.80" font-size="7.5" text-anchor="end" fill="#111" stroke="#111">LA-N-5</text>
<text x="204.00" y="88.70" font-size="7.5" text-anchor="end" fill="#111" stroke="#111">NB-1643</text>
<text x="204.00" y="99.60" font-size="7.5" text-anchor="end" fill="#111" stroke="#111">SMS-SAN</text>
<text x="204.00" y="110.50" font-size="7.5" text-anchor="end" fill="#111" stroke="#111">NB-EbC1</text>
<text x="204.00" y="121.40" font-size="7.5" text-anchor="end" fill="#111" stroke="#111">NB-SD</text>
<line x1="79.50" y1="127.50" x2="79.50" y2="125.30" stroke="#8c8c8c" stroke-width="0.6"/>
<line x1="100.42" y1="127.50" x2="100.42" y2="126.10" stroke="#8c8c8c" stroke-width="0.6"/>
<line x1="121.33" y1="127.50" x2="121.33" y2="125.30" stroke="#8c8c8c" stroke-width="0.6"/>
<line x1="142.25" y1="127.50" x2="142.25" y2="126.10" stroke="#8c8c8c" stroke-width="0.6"/>
<line x1="163.17" y1="127.50" x2="163.17" y2="125.30" stroke="#8c8c8c" stroke-width="0.6"/>
<line x1="184.08" y1="127.50" x2="184.08" y2="126.10" stroke="#8c8c8c" stroke-width="0.6"/>
<line x1="205.00" y1="127.50" x2="205.00" y2="125.30" stroke="#8c8c8c" stroke-width="0.6"/>
<text x="78.00" y="137.30" font-size="7.5" fill="#111" stroke="#111">10<tspan font-size="4.4" dy="-3.0">1</tspan></text>
<text x="115.80" y="137.30" font-size="7.5" fill="#111" stroke="#111">10<tspan font-size="4.4" dy="-3.0">3</tspan></text>
<text x="156.30" y="137.30" font-size="7.5" fill="#111" stroke="#111">10<tspan font-size="4.4" dy="-3.0">5</tspan></text>
<text x="197.00" y="137.30" font-size="7.5" fill="#111" stroke="#111">10<tspan font-size="4.4" dy="-3.0">7</tspan></text>
<line x1="111.00" y1="142.20" x2="166.50" y2="142.20" stroke="#222" stroke-width="0.8"/>
<polygon points="168.6,142.2 164.6,140.1 164.6,144.3" fill="#222"/>
<text x="140.20" y="150.60" font-size="7.5" text-anchor="middle" fill="#111" stroke="#111">GPC2</text>
</g>
<g id="panelB">
<line x1="351.00" y1="26.00" x2="351.00" y2="36.50" stroke="#444" stroke-width="0.7"/>
<line x1="348.50" y1="26.00" x2="353.50" y2="26.00" stroke="#444" stroke-width="0.7"/>
<rect x="347.00" y="36.50" width="8.00" height="74.80" fill="#000"/>
<line x1="362.63" y1="30.50" x2="362.63" y2="40.00" stroke="#444" stroke-width="0.7"/>
<line x1="360.13" y1="30.50" x2="365.13" y2="30.50" stroke="#444" stroke-width="0.7"/>
<rect x="358.63" y="40.00" width="8.00" height="71.30" fill="#000"/>
<line x1="374.26" y1="35.00" x2="374.26" y2="45.75" stroke="#444" stroke-width="0.7"/>
<line x1="371.76" y1="35.00" x2="376.76" y2="35.00" stroke="#444" stroke-width="0.7"/>
<rect x="370.26" y="45.75" width="8.00" height="65.55" fill="#000"/>
<line x1="385.89" y1="58.00" x2="385.89" y2="58.60" stroke="#444" stroke-width="0.7"/>
<line x1="383.39" y1="58.00" x2="388.39" y2="58.00" stroke="#444" stroke-width="0.7"/>
<rect x="381.89" y="58.60" width="8.00" height="52.70" fill="#000"/>
<line x1="397.52" y1="57.50" x2="397.52" y2="63.00" stroke="#444" stroke-width="0.7"/>
<line x1="395.02" y1="57.50" x2="400.02" y2="57.50" stroke="#444" stroke-width="0.7"/>
<rect x="393.52" y="63.00" width="8.00" height="48.30" fill="#000"/>
<line x1="409.15" y1="68.00" x2="409.15" y2="73.75" stroke="#444" stroke-width="0.7"/>
<line x1="406.65" y1="68.00" x2="411.65" y2="68.00" stroke="#444" stroke-width="0.7"/>
<rect x="405.15" y="73.75" width="8.00" height="37.55" fill="#000"/>
<line x1="420.78" y1="72.50" x2="420.78" y2="76.00" stroke="#444" stroke-width="0.7"/>
<line x1="418.28" y1="72.50" x2="423.28" y2="72.50" stroke="#444" stroke-width="0.7"/>
<rect x="416.78" y="76.00" width="8.00" height="35.30" fill="#000"/>
<line x1="432.41" y1="75.50" x2="432.41" y2="79.00" stroke="#444" stroke-width="0.7"/>
<line x1="429.91" y1="75.50" x2="434.91" y2="75.50" stroke="#444" stroke-width="0.7"/>
<rect x="428.41" y="79.00" width="8.00" height="32.30" fill="#000"/>
<rect x="440.04" y="87.00" width="8.00" height="24.30" fill="#000"/>
<rect x="451.67" y="93.75" width="8.00" height="17.55" fill="#000"/>
<line x1="467.30" y1="95.00" x2="467.30" y2="97.00" stroke="#444" stroke-width="0.7"/>
<line x1="464.80" y1="95.00" x2="469.80" y2="95.00" stroke="#444" stroke-width="0.7"/>
<rect x="463.30" y="97.00" width="8.00" height="14.30" fill="#000"/>
<line x1="342.50" y1="22.60" x2="342.50" y2="111.70" stroke="#4a4a4a" stroke-width="0.9"/>
<line x1="342.10" y1="111.30" x2="476.00" y2="111.30" stroke="#4a4a4a" stroke-width="0.9"/>
<line x1="340.20" y1="23.00" x2="342.50" y2="23.00" stroke="#4a4a4a" stroke-width="0.8"/>
<text x="339.60" y="25.70" font-size="7.4" text-anchor="end" fill="#111" stroke="#111">15,000</text>
<line x1="340.20" y1="52.40" x2="342.50" y2="52.40" stroke="#4a4a4a" stroke-width="0.8"/>
<text x="339.60" y="55.10" font-size="7.4" text-anchor="end" fill="#111" stroke="#111">10,000</text>
<line x1="340.20" y1="81.80" x2="342.50" y2="81.80" stroke="#4a4a4a" stroke-width="0.8"/>
<text x="339.60" y="84.50" font-size="7.4" text-anchor="end" fill="#111" stroke="#111">5,000</text>
<line x1="340.20" y1="111.30" x2="342.50" y2="111.30" stroke="#4a4a4a" stroke-width="0.8"/>
<text x="339.60" y="114.00" font-size="7.4" text-anchor="end" fill="#111" stroke="#111">0</text>
<text x="314.90" y="65.00" font-size="7.4" text-anchor="middle" transform="rotate(-90 314.90 65.00)" fill="#111" stroke="#111">GPC2 molecules/cell</text>
<text x="353.20" y="116.60" font-size="7.5" text-anchor="end" transform="rotate(-45 353.20 116.60)" fill="#111" stroke="#111">NB-SD</text>
<text x="364.83" y="116.60" font-size="7.5" text-anchor="end" transform="rotate(-45 364.83 116.60)" fill="#111" stroke="#111">NB-EbC1</text>
<text x="376.46" y="116.60" font-size="7.5" text-anchor="end" transform="rotate(-45 376.46 116.60)" fill="#111" stroke="#111">SMS-SAN</text>
<text x="388.09" y="116.60" font-size="7.5" text-anchor="end" transform="rotate(-45 388.09 116.60)" fill="#111" stroke="#111">NB-1643</text>
<text x="399.72" y="116.60" font-size="7.5" text-anchor="end" transform="rotate(-45 399.72 116.60)" fill="#111" stroke="#111">LA-N-5</text>
<text x="411.35" y="116.60" font-size="7.5" text-anchor="end" transform="rotate(-45 411.35 116.60)" fill="#111" stroke="#111">NB69</text>
<text x="422.98" y="116.60" font-size="7.5" text-anchor="end" transform="rotate(-45 422.98 116.60)" fill="#111" stroke="#111">CHP-134</text>
<text x="434.61" y="116.60" font-size="7.5" text-anchor="end" transform="rotate(-45 434.61 116.60)" fill="#111" stroke="#111">NGP</text>
<text x="446.24" y="116.60" font-size="7.5" text-anchor="end" transform="rotate(-45 446.24 116.60)" fill="#111" stroke="#111">IMR-5</text>
<text x="457.87" y="116.60" font-size="7.5" text-anchor="end" transform="rotate(-45 457.87 116.60)" fill="#111" stroke="#111">SK-N-AS</text>
<text x="469.50" y="116.60" font-size="7.5" text-anchor="end" transform="rotate(-45 469.50 116.60)" fill="#111" stroke="#111">NBL-S</text>
</g>
<g id="panelD">
<rect x="347.00" y="251.25" width="8.00" height="26.05" fill="#000"/>
<line x1="348.50" y1="250.85" x2="353.50" y2="250.85" stroke="#555" stroke-width="0.6"/>
<rect x="358.63" y="204.50" width="8.00" height="72.80" fill="#000"/>
<line x1="360.13" y1="204.10" x2="365.13" y2="204.10" stroke="#555" stroke-width="0.6"/>
<rect x="370.26" y="238.25" width="8.00" height="39.05" fill="#000"/>
<line x1="371.76" y1="237.85" x2="376.76" y2="237.85" stroke="#555" stroke-width="0.6"/>
<rect x="381.89" y="197.50" width="8.00" height="79.80" fill="#000"/>
<line x1="383.39" y1="197.10" x2="388.39" y2="197.10" stroke="#555" stroke-width="0.6"/>
<rect x="393.52" y="220.50" width="8.00" height="56.80" fill="#000"/>
<line x1="395.02" y1="220.10" x2="400.02" y2="220.10" stroke="#555" stroke-width="0.6"/>
<rect x="405.15" y="243.00" width="8.00" height="34.30" fill="#000"/>
<line x1="406.65" y1="242.60" x2="411.65" y2="242.60" stroke="#555" stroke-width="0.6"/>
<rect x="416.78" y="266.25" width="8.00" height="11.05" fill="#000"/>
<line x1="418.28" y1="265.85" x2="423.28" y2="265.85" stroke="#555" stroke-width="0.6"/>
<rect x="428.41" y="256.40" width="8.00" height="20.90" fill="#000"/>
<line x1="429.91" y1="256.00" x2="434.91" y2="256.00" stroke="#555" stroke-width="0.6"/>
<rect x="440.04" y="265.30" width="8.00" height="12.00" fill="#000"/>
<line x1="441.54" y1="264.90" x2="446.54" y2="264.90" stroke="#555" stroke-width="0.6"/>
<rect x="451.67" y="267.50" width="8.00" height="9.80" fill="#000"/>
<line x1="453.17" y1="267.10" x2="458.17" y2="267.10" stroke="#555" stroke-width="0.6"/>
<rect x="463.30" y="266.00" width="8.00" height="11.30" fill="#000"/>
<line x1="464.80" y1="265.60" x2="469.80" y2="265.60" stroke="#555" stroke-width="0.6"/>
<line x1="342.50" y1="188.30" x2="342.50" y2="277.70" stroke="#4a4a4a" stroke-width="0.9"/>
<line x1="342.10" y1="277.30" x2="476.00" y2="277.30" stroke="#4a4a4a" stroke-width="0.9"/>
<line x1="340.20" y1="188.75" x2="342.50" y2="188.75" stroke="#4a4a4a" stroke-width="0.8"/>
<text x="339.80" y="191.45" font-size="7.4" text-anchor="end" fill="#111" stroke="#111">6<tspan dx="1.1">×</tspan><tspan dx="1.1">10</tspan><tspan font-size="4.2" dy="-3.0">6</tspan></text>
<line x1="340.20" y1="218.20" x2="342.50" y2="218.20" stroke="#4a4a4a" stroke-width="0.8"/>
<text x="339.80" y="220.90" font-size="7.4" text-anchor="end" fill="#111" stroke="#111">4<tspan dx="1.1">×</tspan><tspan dx="1.1">10</tspan><tspan font-size="4.2" dy="-3.0">6</tspan></text>
<line x1="340.20" y1="247.60" x2="342.50" y2="247.60" stroke="#4a4a4a" stroke-width="0.8"/>
<text x="339.80" y="250.30" font-size="7.4" text-anchor="end" fill="#111" stroke="#111">2<tspan dx="1.1">×</tspan><tspan dx="1.1">10</tspan><tspan font-size="4.2" dy="-3.0">6</tspan></text>
<line x1="340.20" y1="277.30" x2="342.50" y2="277.30" stroke="#4a4a4a" stroke-width="0.8"/>
<text x="339.60" y="280.00" font-size="7.4" text-anchor="end" fill="#111" stroke="#111">0</text>
<text x="314.00" y="231.60" font-size="7.3" text-anchor="middle" transform="rotate(-90 314.00 231.60)" fill="#111" stroke="#111">D3-GPC2-IgG-Red AUC</text>
<text x="353.20" y="282.80" font-size="7.5" text-anchor="end" transform="rotate(-45 353.20 282.80)" fill="#111" stroke="#111">NB-SD</text>
<text x="364.83" y="282.80" font-size="7.5" text-anchor="end" transform="rotate(-45 364.83 282.80)" fill="#111" stroke="#111">NB-EbC1</text>
<text x="376.46" y="282.80" font-size="7.5" text-anchor="end" transform="rotate(-45 376.46 282.80)" fill="#111" stroke="#111">SMS-SAN</text>
<text x="388.09" y="282.80" font-size="7.5" text-anchor="end" transform="rotate(-45 388.09 282.80)" fill="#111" stroke="#111">NB-1643</text>
<text x="399.72" y="282.80" font-size="7.5" text-anchor="end" transform="rotate(-45 399.72 282.80)" fill="#111" stroke="#111">LA-N-5</text>
<text x="411.35" y="282.80" font-size="7.5" text-anchor="end" transform="rotate(-45 411.35 282.80)" fill="#111" stroke="#111">NB69</text>
<text x="422.98" y="282.80" font-size="7.5" text-anchor="end" transform="rotate(-45 422.98 282.80)" fill="#111" stroke="#111">CHP-134</text>
<text x="434.61" y="282.80" font-size="7.5" text-anchor="end" transform="rotate(-45 434.61 282.80)" fill="#111" stroke="#111">NGP</text>
<text x="446.24" y="282.80" font-size="7.5" text-anchor="end" transform="rotate(-45 446.24 282.80)" fill="#111" stroke="#111">IMR-5</text>
<text x="457.87" y="282.80" font-size="7.5" text-anchor="end" transform="rotate(-45 457.87 282.80)" fill="#111" stroke="#111">SK-N-AS</text>
<text x="469.50" y="282.80" font-size="7.5" text-anchor="end" transform="rotate(-45 469.50 282.80)" fill="#111" stroke="#111">NBL-S</text>
</g>
<g id="panelF">
<rect x="347.00" y="351.20" width="8.00" height="19.40" fill="#000"/>
<rect x="347.00" y="375.40" width="8.00" height="64.80" fill="#000"/>
<line x1="362.63" y1="391.25" x2="362.63" y2="401.25" stroke="#444" stroke-width="0.7"/>
<line x1="360.13" y1="391.25" x2="365.13" y2="391.25" stroke="#444" stroke-width="0.7"/>
<rect x="358.63" y="401.25" width="8.00" height="38.95" fill="#000"/>
<line x1="374.26" y1="406.25" x2="374.26" y2="413.00" stroke="#444" stroke-width="0.7"/>
<line x1="371.76" y1="406.25" x2="376.76" y2="406.25" stroke="#444" stroke-width="0.7"/>
<rect x="370.26" y="413.00" width="8.00" height="27.20" fill="#000"/>
<line x1="385.89" y1="412.20" x2="385.89" y2="420.50" stroke="#444" stroke-width="0.7"/>
<line x1="383.39" y1="412.20" x2="388.39" y2="412.20" stroke="#444" stroke-width="0.7"/>
<rect x="381.89" y="420.50" width="8.00" height="19.70" fill="#000"/>
<line x1="397.52" y1="424.50" x2="397.52" y2="428.75" stroke="#444" stroke-width="0.7"/>
<line x1="395.02" y1="424.50" x2="400.02" y2="424.50" stroke="#444" stroke-width="0.7"/>
<rect x="393.52" y="428.75" width="8.00" height="11.45" fill="#000"/>
<rect x="405.15" y="351.20" width="8.00" height="19.40" fill="#000"/>
<rect x="405.15" y="375.40" width="8.00" height="64.80" fill="#000"/>
<rect x="416.78" y="429.50" width="8.00" height="10.70" fill="#000"/>
<line x1="432.41" y1="417.50" x2="432.41" y2="422.00" stroke="#444" stroke-width="0.7"/>
<line x1="429.91" y1="417.50" x2="434.91" y2="417.50" stroke="#444" stroke-width="0.7"/>
<rect x="428.41" y="422.00" width="8.00" height="18.20" fill="#000"/>
<line x1="444.04" y1="405.20" x2="444.04" y2="408.50" stroke="#444" stroke-width="0.7"/>
<line x1="441.54" y1="405.20" x2="446.54" y2="405.20" stroke="#444" stroke-width="0.7"/>
<rect x="440.04" y="408.50" width="8.00" height="31.70" fill="#000"/>
<rect x="451.67" y="351.20" width="8.00" height="19.40" fill="#000"/>
<rect x="451.67" y="375.40" width="8.00" height="64.80" fill="#000"/>
<rect x="463.30" y="351.20" width="8.00" height="19.40" fill="#000"/>
<rect x="463.30" y="375.40" width="8.00" height="64.80" fill="#000"/>
<line x1="342.50" y1="350.90" x2="342.50" y2="371.30" stroke="#4a4a4a" stroke-width="0.9"/>
<line x1="342.50" y1="375.00" x2="342.50" y2="440.60" stroke="#4a4a4a" stroke-width="0.9"/>
<line x1="342.10" y1="440.20" x2="476.00" y2="440.20" stroke="#4a4a4a" stroke-width="0.9"/>
<line x1="340.20" y1="351.30" x2="342.50" y2="351.30" stroke="#4a4a4a" stroke-width="0.8"/>
<text x="339.60" y="354.00" font-size="7.4" text-anchor="end" fill="#111" stroke="#111">&gt;5,000</text>
<line x1="340.20" y1="367.00" x2="342.50" y2="367.00" stroke="#4a4a4a" stroke-width="0.8"/>
<text x="339.60" y="369.70" font-size="7.4" text-anchor="end" fill="#111" stroke="#111">4,000</text>
<line x1="340.20" y1="375.50" x2="342.50" y2="375.50" stroke="#4a4a4a" stroke-width="0.8"/>
<text x="339.60" y="378.20" font-size="7.4" text-anchor="end" fill="#111" stroke="#111">10</text>
<line x1="340.20" y1="388.40" x2="342.50" y2="388.40" stroke="#4a4a4a" stroke-width="0.8"/>
<text x="339.60" y="391.10" font-size="7.4" text-anchor="end" fill="#111" stroke="#111">8</text>
<line x1="340.20" y1="401.30" x2="342.50" y2="401.30" stroke="#4a4a4a" stroke-width="0.8"/>
<text x="339.60" y="404.00" font-size="7.4" text-anchor="end" fill="#111" stroke="#111">6</text>
<line x1="340.20" y1="414.30" x2="342.50" y2="414.30" stroke="#4a4a4a" stroke-width="0.8"/>
<text x="339.60" y="417.00" font-size="7.4" text-anchor="end" fill="#111" stroke="#111">4</text>
<line x1="340.20" y1="427.20" x2="342.50" y2="427.20" stroke="#4a4a4a" stroke-width="0.8"/>
<text x="339.60" y="429.90" font-size="7.4" text-anchor="end" fill="#111" stroke="#111">2</text>
<line x1="340.20" y1="440.20" x2="342.50" y2="440.20" stroke="#4a4a4a" stroke-width="0.8"/>
<text x="339.60" y="442.90" font-size="7.4" text-anchor="end" fill="#111" stroke="#111">0</text>
<line x1="341.20" y1="359.10" x2="342.50" y2="359.10" stroke="#4a4a4a" stroke-width="0.6"/>
<line x1="341.20" y1="381.90" x2="342.50" y2="381.90" stroke="#4a4a4a" stroke-width="0.6"/>
<line x1="341.20" y1="394.80" x2="342.50" y2="394.80" stroke="#4a4a4a" stroke-width="0.6"/>
<line x1="341.20" y1="407.80" x2="342.50" y2="407.80" stroke="#4a4a4a" stroke-width="0.6"/>
<line x1="341.20" y1="420.70" x2="342.50" y2="420.70" stroke="#4a4a4a" stroke-width="0.6"/>
<line x1="341.20" y1="433.70" x2="342.50" y2="433.70" stroke="#4a4a4a" stroke-width="0.6"/>
<text x="315.00" y="385.50" font-size="7.4" text-anchor="middle" transform="rotate(-90 315.00 385.50)" fill="#111" stroke="#111">IC<tspan font-size="4.3" dy="1.6">50</tspan><tspan dy="-1.6"> (pmol/L)</tspan></text>
<text x="353.20" y="445.80" font-size="7.5" text-anchor="end" transform="rotate(-45 353.20 445.80)" fill="#111" stroke="#111">NB-SD</text>
<text x="364.83" y="445.80" font-size="7.5" text-anchor="end" transform="rotate(-45 364.83 445.80)" fill="#111" stroke="#111">NB-EbC1</text>
<text x="376.46" y="445.80" font-size="7.5" text-anchor="end" transform="rotate(-45 376.46 445.80)" fill="#111" stroke="#111">SMS-SAN</text>
<text x="388.09" y="445.80" font-size="7.5" text-anchor="end" transform="rotate(-45 388.09 445.80)" fill="#111" stroke="#111">NB-1643</text>
<text x="399.72" y="445.80" font-size="7.5" text-anchor="end" transform="rotate(-45 399.72 445.80)" fill="#111" stroke="#111">LAN-5</text>
<text x="411.35" y="445.80" font-size="7.5" text-anchor="end" transform="rotate(-45 411.35 445.80)" fill="#111" stroke="#111">NB69</text>
<text x="422.98" y="445.80" font-size="7.5" text-anchor="end" transform="rotate(-45 422.98 445.80)" fill="#111" stroke="#111">CHP-134</text>
<text x="434.61" y="445.80" font-size="7.5" text-anchor="end" transform="rotate(-45 434.61 445.80)" fill="#111" stroke="#111">NGP</text>
<text x="446.24" y="445.80" font-size="7.5" text-anchor="end" transform="rotate(-45 446.24 445.80)" fill="#111" stroke="#111">IMR-5</text>
<text x="457.87" y="445.80" font-size="7.5" text-anchor="end" transform="rotate(-45 457.87 445.80)" fill="#111" stroke="#111">SK-N-AS</text>
<text x="469.50" y="445.80" font-size="7.5" text-anchor="end" transform="rotate(-45 469.50 445.80)" fill="#111" stroke="#111">NBL-S</text>
</g>
<g id="panelC">
<polyline points="90.50,318.00 92.50,310.00 94.17,305.83 95.83,301.67 97.50,297.50 99.38,294.38 101.25,291.25 103.12,288.12 105.00,284.75 106.88,279.51 108.75,275.21 110.62,269.40 112.50,265.05 114.38,261.06 116.25,256.88 118.12,253.76 120.00,249.35 121.88,246.78 123.75,243.15 125.62,240.05 127.50,237.39 129.38,236.08 131.25,233.22 133.12,231.49 135.00,230.18 136.67,229.46 138.33,227.77 140.00,226.36 141.67,226.00 143.33,223.53 145.00,223.50 146.88,221.96 148.75,221.00 150.62,220.21 152.50,219.73 154.75,222.19 157.00,223.05 160.00,224.61 161.88,224.07 163.75,223.07 165.62,222.69 167.50,221.39 169.38,222.38 171.25,223.59 173.12,225.25 175.00,225.90 176.67,227.03 178.33,228.70 180.00,229.81 181.67,230.89 183.33,232.87 185.00,234.03 186.67,234.43 188.33,235.94 190.00,236.91 191.67,238.44 193.33,239.28 195.00,239.70 196.80,241.97 198.60,242.07 200.40,243.79 202.20,245.56 204.00,246.50" fill="none" stroke="#cfcfcf" stroke-width="1.35" stroke-linejoin="round"/>
<polyline points="90.50,318.00 92.00,308.00 95.00,300.00 96.67,298.33 98.33,296.67 100.00,295.00 101.67,294.33 103.33,293.67 105.00,293.00 106.67,292.33 108.33,291.67 110.00,290.51 111.67,290.73 113.33,289.85 115.00,290.49 116.67,290.37 118.33,289.85 120.00,290.03 121.67,289.32 123.33,289.94 125.00,289.88 126.67,289.95 128.33,289.86 130.00,290.48 131.67,290.21 133.33,289.13 135.00,288.98 136.67,287.72 138.33,288.20 140.00,287.71 141.67,287.94 143.33,287.45 145.00,286.45 146.67,286.34 148.33,286.49 150.00,285.33 151.67,286.11 153.33,285.87 155.00,285.96 156.67,286.05 158.33,287.21 160.00,286.48 161.67,286.48 163.33,286.51 165.00,287.02 166.67,285.75 168.33,286.10 170.00,286.07 171.67,286.37 173.33,286.11 175.00,286.01 176.67,285.02 178.33,285.05 180.00,284.80 181.67,285.70 183.33,285.97 185.00,285.01 186.67,285.21 188.33,285.46 190.00,285.63 191.75,286.17 193.50,286.50 195.25,286.23 197.00,286.06 198.75,286.82 200.50,286.94 202.25,287.41 204.00,287.50" fill="none" stroke="#cfcfcf" stroke-width="1.35" stroke-linejoin="round"/>
<polyline points="90.50,318.00 92.75,315.25 95.00,312.50 96.67,311.88 98.33,311.25 100.00,310.62 101.67,310.00 103.33,309.38 105.00,309.02 106.67,308.56 108.33,308.15 110.00,307.90 111.67,307.63 113.33,306.95 115.00,307.16 116.67,306.78 118.33,306.53 120.00,306.18 121.67,305.64 123.33,305.36 125.00,304.89 126.67,304.91 128.33,304.28 130.00,303.99 131.67,303.78 133.33,303.46 135.00,303.28 136.67,302.81 138.33,302.49 140.00,302.29 141.67,302.01 143.33,301.92 145.00,301.47 146.67,301.72 148.33,301.32 150.00,300.79 151.67,300.60 153.33,300.41 155.00,300.17 156.67,299.77 158.33,299.96 160.00,299.80 161.67,299.31 163.33,299.16 165.00,298.75 166.67,298.59 168.33,298.57 170.00,298.36 171.67,298.53 173.33,297.96 175.00,297.71 176.67,298.10 178.33,297.68 180.00,297.29 181.71,297.37 183.43,296.90 185.14,297.05 186.86,297.16 188.57,296.93 190.29,296.67 192.00,296.26 193.71,296.26 195.43,296.09 197.14,296.39 198.86,296.19 200.57,296.28 202.29,295.95 204.00,296.00" fill="none" stroke="#cfcfcf" stroke-width="1.35" stroke-linejoin="round"/>
<polyline points="90.50,318.00 92.12,314.50 93.75,311.00 95.62,308.50 97.50,306.00 99.38,305.44 101.25,304.88 103.12,304.31 105.00,303.67 106.79,303.66 108.57,303.54 110.36,303.32 112.14,303.13 113.93,302.95 115.71,302.75 117.50,302.42 119.11,302.47 120.71,302.39 122.32,302.25 123.93,302.22 125.54,302.26 127.14,302.21 128.75,302.31 130.36,302.35 131.96,302.16 133.57,302.27 135.18,302.25 136.79,302.21 138.39,302.00 140.00,301.92 141.67,302.00 143.33,302.08 145.00,302.16 146.67,302.37 148.33,302.54 150.00,302.60 151.67,302.58 153.33,302.71 155.00,302.84 156.67,302.71 158.33,302.96 160.00,303.12 161.67,303.25 163.33,303.41 165.00,303.49 166.67,303.57 168.33,303.92 170.00,303.95 171.67,304.26 173.33,304.47 175.00,304.47 176.67,304.64 178.33,304.97 180.00,305.07 181.79,305.01 183.57,305.10 185.36,305.22 187.14,305.55 188.93,305.63 190.71,305.54 192.50,305.85 194.14,305.93 195.79,305.87 197.43,305.81 199.07,305.91 200.71,305.82 202.36,305.82 204.00,306.00" fill="none" stroke="#8a8a8a" stroke-width="1.35" stroke-linejoin="round" stroke-dasharray="4 2"/>
<polyline points="90.50,318.00 92.00,312.00 95.00,307.50 96.67,306.88 98.33,306.25 100.00,305.62 101.67,305.00 103.33,304.38 105.00,303.89 106.67,303.60 108.33,303.37 110.00,303.30 111.67,302.95 113.33,302.89 115.00,302.68 116.67,302.30 118.33,302.12 120.00,301.94 121.67,301.92 123.33,302.03 125.00,301.93 126.67,301.98 128.33,301.89 130.00,302.12 131.67,301.96 133.33,301.99 135.00,302.03 136.67,302.12 138.33,301.98 140.00,302.13 141.67,301.92 143.33,301.84 145.00,301.76 146.67,301.52 148.33,301.57 150.00,301.40 151.67,301.27 153.33,301.42 155.00,301.15 156.67,301.16 158.33,301.15 160.00,301.02 161.67,300.76 163.33,300.63 165.00,300.45 166.67,300.34 168.33,299.94 170.00,299.89 171.67,299.61 173.33,299.43 175.00,299.39 176.67,299.13 178.33,298.96 180.00,298.83 181.79,298.48 183.57,297.95 185.36,297.61 187.14,297.18 188.93,296.79 190.71,296.45 192.50,295.99 194.14,295.69 195.79,295.35 197.43,295.17 199.07,294.77 200.71,294.51 202.36,294.20 204.00,293.75" fill="none" stroke="#8a8a8a" stroke-width="1.35" stroke-linejoin="round" stroke-dasharray="4 2"/>
<polyline points="90.50,318.00 92.00,303.00 95.00,292.50 96.88,288.75 98.75,285.00 100.62,281.25 102.50,277.36 104.17,275.62 105.83,273.93 107.50,271.95 109.17,269.62 110.83,267.69 112.50,265.97 114.17,264.91 115.83,264.18 117.50,263.24 119.17,262.77 120.83,262.00 122.50,261.24 124.38,260.54 126.25,260.63 128.12,260.35 130.00,259.79 131.67,260.40 133.33,260.61 135.00,260.33 136.67,260.94 138.33,260.77 140.00,260.99 141.67,261.63 143.33,261.87 145.00,261.80 146.67,262.29 148.33,262.68 150.00,262.90 151.67,263.57 153.33,264.39 155.00,265.38 156.67,265.71 158.33,266.78 160.00,267.46 161.67,267.79 163.33,268.57 165.00,269.32 166.67,269.84 168.33,270.16 170.00,271.29 171.67,271.84 173.33,272.62 175.00,272.76 176.67,273.53 178.33,274.06 180.00,275.17 181.67,275.49 183.33,276.03 185.00,276.83 186.67,277.75 188.33,278.32 190.00,278.61 191.67,279.08 193.33,280.08 195.00,280.42 196.67,281.04 198.33,281.21 200.00,281.73 202.25,282.61 204.50,283.00" fill="none" stroke="#8a8a8a" stroke-width="1.35" stroke-linejoin="round" stroke-dasharray="4 2"/>
<polyline points="90.50,318.00 91.50,305.00 93.75,285.00 95.67,272.50 97.60,260.00 99.53,253.33 101.47,246.67 103.40,239.95 105.20,236.70 107.00,234.31 108.80,231.09 110.67,229.21 112.53,226.71 114.40,225.25 116.17,224.03 117.93,223.92 119.70,222.97 121.47,222.22 123.23,221.70 125.00,221.30 126.67,220.17 128.33,219.41 130.00,219.02 131.67,218.15 133.33,217.39 135.00,216.76 136.67,216.35 138.33,216.12 140.00,215.87 141.67,215.53 143.33,215.51 145.00,214.85 146.79,215.36 148.57,215.49 150.36,215.96 152.14,216.09 153.93,216.61 155.71,216.80 157.50,217.66 159.29,216.82 161.07,215.85 162.86,215.34 164.64,214.95 166.43,213.65 168.21,213.44 170.00,212.45 171.67,211.66 173.33,211.07 175.00,209.93 176.67,209.17 178.33,208.46 180.00,207.84 181.67,207.47 183.33,207.90 185.00,207.89 186.67,207.93 188.33,207.85 190.00,207.89 191.67,206.77 193.33,205.91 195.00,204.95 196.67,204.50 198.33,203.25 200.00,202.26 202.25,200.46 204.50,199.00" fill="none" stroke="#8a8a8a" stroke-width="1.35" stroke-linejoin="round" stroke-dasharray="4 2"/>
<polyline points="90.50,318.00 92.50,310.00 94.17,306.67 95.83,303.33 97.50,300.00 99.38,299.00 101.25,298.00 103.12,297.00 105.00,296.20 106.88,296.60 108.75,296.85 110.62,296.99 112.50,297.35 114.17,297.88 115.83,298.48 117.50,298.79 119.17,299.47 120.83,299.86 122.50,300.78 124.25,301.03 126.00,301.03 127.75,301.10 129.50,301.78 131.25,301.64 133.00,301.91 134.75,301.95 136.50,302.43 138.25,302.73 140.00,303.00 141.67,303.03 143.33,303.42 145.00,303.33 146.67,303.69 148.33,303.80 150.00,304.19 151.67,304.18 153.33,304.38 155.00,304.76 156.67,304.92 158.33,305.34 160.00,305.52 161.67,305.65 163.33,305.59 165.00,305.63 166.67,305.73 168.33,305.43 170.00,305.40 171.67,305.79 173.33,305.29 175.00,305.63 176.67,305.59 178.33,305.23 180.00,305.70 181.79,305.49 183.57,305.08 185.36,304.89 187.14,304.69 188.93,304.03 190.71,304.01 192.50,303.75 194.14,303.70 195.79,303.43 197.43,303.20 199.07,302.80 200.71,302.74 202.36,302.36 204.00,302.00" fill="none" stroke="#0a0a0a" stroke-width="1.8" stroke-linejoin="round"/>
<polyline points="90.50,318.00 93.00,303.00 94.92,298.25 96.83,293.50 98.75,288.75 100.36,287.14 101.96,285.54 103.57,283.93 105.18,282.32 106.79,280.71 108.39,279.11 110.00,277.67 111.67,276.76 113.33,276.08 115.00,275.67 116.67,275.37 118.33,274.64 120.00,274.80 121.67,275.05 123.33,275.61 125.00,276.11 126.67,276.66 128.33,276.99 130.00,277.05 131.67,277.91 133.33,278.00 135.00,277.92 136.67,278.09 138.33,278.34 140.00,277.94 141.67,278.69 143.33,278.39 145.00,278.37 146.67,278.91 148.33,279.71 150.00,279.61 151.67,280.47 153.33,281.05 155.00,280.99 156.79,281.04 158.57,281.27 160.36,281.59 162.14,281.81 163.93,281.82 165.71,281.99 167.50,281.62 169.29,282.11 171.07,282.64 172.86,283.50 174.64,283.54 176.43,284.20 178.21,284.13 180.00,284.60 181.79,285.15 183.57,285.87 185.36,286.24 187.14,286.59 188.93,286.60 190.71,287.16 192.50,287.47 194.12,287.59 195.75,287.41 197.38,288.23 199.00,287.73 200.67,287.96 202.33,287.46 204.00,286.60" fill="none" stroke="#0a0a0a" stroke-width="1.8" stroke-linejoin="round"/>
<polyline points="90.50,318.00 92.25,312.00 94.00,306.00 96.00,303.17 98.00,300.33 100.00,297.50 101.67,296.04 103.33,294.58 105.00,293.12 106.67,291.67 108.33,290.21 110.00,288.27 111.67,287.25 113.33,286.15 115.00,284.84 116.67,282.87 118.33,281.23 120.00,279.71 121.67,278.36 123.33,275.54 125.00,273.83 126.67,271.31 128.33,269.61 130.00,267.95 131.67,265.47 133.33,264.49 135.00,262.51 136.67,261.22 138.33,259.37 140.00,257.23 141.67,256.98 143.33,255.65 145.00,254.27 146.67,253.34 148.33,252.91 150.00,251.95 151.67,251.26 153.33,250.56 155.00,250.22 156.67,249.65 158.33,249.63 160.00,248.25 161.67,249.58 163.33,250.26 165.00,250.12 166.67,250.76 168.33,250.38 170.00,250.40 171.67,249.62 173.33,249.54 175.00,249.39 176.67,250.29 178.33,250.17 180.00,250.24 181.67,250.59 183.33,250.73 185.00,250.80 186.67,250.98 188.33,251.83 190.00,251.41 191.67,252.19 193.33,251.62 195.00,251.77 196.80,252.21 198.60,252.09 200.40,252.47 202.20,253.26 204.00,253.00" fill="none" stroke="#0a0a0a" stroke-width="1.8" stroke-linejoin="round"/>
<polyline points="90.50,318.00 92.50,307.50 95.00,285.00 96.67,276.67 98.33,268.33 100.00,260.00 101.88,255.00 103.75,250.00 105.62,245.00 107.50,240.69 109.38,237.12 111.25,233.36 113.12,230.43 115.00,227.04 116.67,225.38 118.33,224.73 120.00,222.56 121.67,222.83 123.33,221.37 125.00,220.95 126.75,218.16 128.50,214.92 130.25,211.89 132.00,210.87 133.75,206.83 135.42,205.95 137.08,204.22 138.75,202.64 140.62,202.68 142.50,202.36 144.38,200.32 146.25,200.28 148.00,202.14 150.00,198.10 151.67,199.14 153.33,200.07 155.00,201.39 156.67,198.97 158.33,197.73 160.00,194.49 161.67,194.16 163.33,195.56 165.00,195.89 167.08,193.08 169.17,190.68 171.25,188.95 173.00,189.06 174.75,189.82 176.50,189.66 178.25,190.23 180.00,190.57 181.67,191.29 183.33,192.03 185.00,191.95 186.67,191.51 188.33,191.68 190.00,192.04 191.88,191.28 193.75,190.71 195.62,189.71 197.50,189.60 199.12,190.84 200.75,189.33 202.38,190.01 204.00,190.00" fill="none" stroke="#0a0a0a" stroke-width="1.8" stroke-linejoin="round"/>
<line x1="58.80" y1="317.60" x2="91.00" y2="317.60" stroke="#0a0a0a" stroke-width="1.6"/>
<line x1="58.50" y1="172.60" x2="58.50" y2="318.60" stroke="#8a8a8a" stroke-width="0.9"/>
<line x1="58.10" y1="318.40" x2="204.50" y2="318.40" stroke="#8a8a8a" stroke-width="0.9"/>
<line x1="56.30" y1="173.00" x2="58.50" y2="173.00" stroke="#8a8a8a" stroke-width="0.8"/>
<text x="56.70" y="175.70" font-size="7.4" text-anchor="end" fill="#111" stroke="#111">100,000</text>
<line x1="56.30" y1="209.40" x2="58.50" y2="209.40" stroke="#8a8a8a" stroke-width="0.8"/>
<text x="56.70" y="212.10" font-size="7.4" text-anchor="end" fill="#111" stroke="#111">75,000</text>
<line x1="56.30" y1="245.80" x2="58.50" y2="245.80" stroke="#8a8a8a" stroke-width="0.8"/>
<text x="56.70" y="248.50" font-size="7.4" text-anchor="end" fill="#111" stroke="#111">50,000</text>
<line x1="56.30" y1="282.20" x2="58.50" y2="282.20" stroke="#8a8a8a" stroke-width="0.8"/>
<text x="56.70" y="284.90" font-size="7.4" text-anchor="end" fill="#111" stroke="#111">25,000</text>
<line x1="56.30" y1="318.20" x2="58.50" y2="318.20" stroke="#8a8a8a" stroke-width="0.8"/>
<text x="56.70" y="320.90" font-size="7.4" text-anchor="end" fill="#111" stroke="#111">0</text>
<line x1="58.80" y1="318.40" x2="58.80" y2="320.40" stroke="#8a8a8a" stroke-width="0.8"/>
<text x="59.60" y="326.60" font-size="7.4" text-anchor="middle" fill="#111" stroke="#111">0</text>
<line x1="95.04" y1="318.40" x2="95.04" y2="320.40" stroke="#8a8a8a" stroke-width="0.8"/>
<text x="95.84" y="326.60" font-size="7.4" text-anchor="middle" fill="#111" stroke="#111">24</text>
<line x1="131.28" y1="318.40" x2="131.28" y2="320.40" stroke="#8a8a8a" stroke-width="0.8"/>
<text x="132.08" y="326.60" font-size="7.4" text-anchor="middle" fill="#111" stroke="#111">48</text>
<line x1="167.52" y1="318.40" x2="167.52" y2="320.40" stroke="#8a8a8a" stroke-width="0.8"/>
<text x="168.32" y="326.60" font-size="7.4" text-anchor="middle" fill="#111" stroke="#111">72</text>
<line x1="203.76" y1="318.40" x2="203.76" y2="320.40" stroke="#8a8a8a" stroke-width="0.8"/>
<text x="204.56" y="326.60" font-size="7.4" text-anchor="middle" fill="#111" stroke="#111">96</text>
<text x="134.60" y="334.50" font-size="7.6" text-anchor="middle" fill="#111" stroke="#111">Time (hours)</text>
<text x="25.70" y="238.80" font-size="7.5" text-anchor="middle" transform="rotate(-90 25.70 238.80)" fill="#111" stroke="#111">D3-GPC2-IgG1-Red internalization</text>
<text x="207.00" y="192.40" font-size="7.4" fill="#111" stroke="#111">NB-1643</text>
<text x="207.00" y="202.80" font-size="7.4" fill="#b3b3b3" stroke="#b3b3b3">NB-EbC1</text>
<text x="207.00" y="248.60" font-size="7.4" fill="#e0e0e0" stroke="#e0e0e0">LA-N-5</text>
<text x="207.00" y="257.40" font-size="7.4" fill="#111" stroke="#111">SMS-SAN</text>
<text x="207.00" y="274.70" font-size="7.4" fill="#c0c0c0" stroke="#c0c0c0">NB69</text>
<text x="207.00" y="281.40" font-size="7.4" fill="#e6e6e6" stroke="#e6e6e6">NGP</text>
<text x="207.00" y="289.70" font-size="7.4" fill="#111" stroke="#111">NB-SD</text>
<text x="207.00" y="296.10" font-size="7.4" fill="#b3b3b3" stroke="#b3b3b3">IMR-5</text>
<text x="207.00" y="303.10" font-size="7.4" fill="#e6e6e6" stroke="#e6e6e6">NBL-S</text>
<text x="207.00" y="310.30" font-size="7.4" fill="#111" stroke="#111">CHP-134</text>
<text x="207.00" y="317.40" font-size="7.4" fill="#b3b3b3" stroke="#b3b3b3">SK-N-AS</text>
</g>
<g id="panelE">
<polyline points="81.25,366.00 96.25,379.00 111.25,396.00 126.25,445.00 141.25,470.50 156.25,473.75 171.25,474.50 186.25,475.00" fill="none" stroke="#c8c8c8" stroke-width="0.7" stroke-linejoin="round"/>
<polyline points="81.25,382.50 96.25,387.50 111.25,426.25 126.25,464.50 141.25,471.25 156.25,473.75 171.25,474.50 186.25,475.50" fill="none" stroke="#c8c8c8" stroke-width="0.7" stroke-linejoin="round"/>
<polyline points="81.25,368.00 96.25,369.00 111.25,371.00 126.25,370.50 141.25,371.50 156.25,366.00 171.25,372.00 186.25,380.00" fill="none" stroke="#c8c8c8" stroke-width="0.7" stroke-linejoin="round"/>
<polyline points="81.25,365.00 96.25,372.00 111.25,401.90 126.25,437.00 141.25,447.50 156.25,450.00 171.25,453.75 186.25,455.00" fill="none" stroke="#c8c8c8" stroke-width="0.7" stroke-linejoin="round"/>
<polyline points="81.25,363.80 96.25,368.50 111.25,366.60 126.25,370.80 141.25,370.00 156.25,372.00 171.25,370.50 186.25,378.75" fill="none" stroke="#333" stroke-width="0.7" stroke-linejoin="round"/>
<polyline points="81.25,367.50 96.25,370.50 111.25,373.50 126.25,377.00 141.25,380.75 156.25,386.75 171.25,386.25 186.25,382.00" fill="none" stroke="#333" stroke-width="0.7" stroke-linejoin="round"/>
<polyline points="81.25,366.00 96.25,387.50 111.25,392.00 126.25,440.00 141.25,451.25 156.25,456.25 171.25,458.75 186.25,463.75" fill="none" stroke="#333" stroke-width="0.7" stroke-linejoin="round"/>
<polyline points="81.25,367.00 96.25,388.50 111.25,408.00 126.25,441.25 141.25,456.25 156.25,456.25 171.25,459.50 186.25,463.75" fill="none" stroke="#333" stroke-width="0.7" stroke-linejoin="round"/>
<polyline points="81.25,366.50 96.25,364.40 111.25,385.00 126.25,420.60 141.25,430.00 156.25,433.75 171.25,437.50 186.25,447.00" fill="none" stroke="#333" stroke-width="0.7" stroke-linejoin="round"/>
<polyline points="81.25,374.40 96.25,371.00 111.25,376.50 126.25,377.75 141.25,375.00 156.25,379.50 171.25,386.25 186.25,401.25" fill="none" stroke="#333" stroke-width="0.7" stroke-linejoin="round"/>
<polyline points="81.25,372.50 96.25,376.90 111.25,395.25 126.25,430.40 141.25,462.50 156.25,465.50 171.25,469.50 186.25,470.50" fill="none" stroke="#333" stroke-width="0.7" stroke-linejoin="round"/>
<circle cx="81.25" cy="366.00" r="2.1" fill="#fff" stroke="#c8c8c8" stroke-width="0.7"/>
<line x1="79.15" y1="366.00" x2="83.35" y2="366.00" stroke="#c8c8c8" stroke-width="0.5"/>
<line x1="81.25" y1="363.90" x2="81.25" y2="368.10" stroke="#c8c8c8" stroke-width="0.5"/>
<circle cx="96.25" cy="379.00" r="2.1" fill="#fff" stroke="#c8c8c8" stroke-width="0.7"/>
<line x1="94.15" y1="379.00" x2="98.35" y2="379.00" stroke="#c8c8c8" stroke-width="0.5"/>
<line x1="96.25" y1="376.90" x2="96.25" y2="381.10" stroke="#c8c8c8" stroke-width="0.5"/>
<circle cx="111.25" cy="396.00" r="2.1" fill="#fff" stroke="#c8c8c8" stroke-width="0.7"/>
<line x1="109.15" y1="396.00" x2="113.35" y2="396.00" stroke="#c8c8c8" stroke-width="0.5"/>
<line x1="111.25" y1="393.90" x2="111.25" y2="398.10" stroke="#c8c8c8" stroke-width="0.5"/>
<circle cx="126.25" cy="445.00" r="2.1" fill="#fff" stroke="#c8c8c8" stroke-width="0.7"/>
<line x1="124.15" y1="445.00" x2="128.35" y2="445.00" stroke="#c8c8c8" stroke-width="0.5"/>
<line x1="126.25" y1="442.90" x2="126.25" y2="447.10" stroke="#c8c8c8" stroke-width="0.5"/>
<circle cx="141.25" cy="470.50" r="2.1" fill="#fff" stroke="#c8c8c8" stroke-width="0.7"/>
<line x1="139.15" y1="470.50" x2="143.35" y2="470.50" stroke="#c8c8c8" stroke-width="0.5"/>
<line x1="141.25" y1="468.40" x2="141.25" y2="472.60" stroke="#c8c8c8" stroke-width="0.5"/>
<circle cx="156.25" cy="473.75" r="2.1" fill="#fff" stroke="#c8c8c8" stroke-width="0.7"/>
<line x1="154.15" y1="473.75" x2="158.35" y2="473.75" stroke="#c8c8c8" stroke-width="0.5"/>
<line x1="156.25" y1="471.65" x2="156.25" y2="475.85" stroke="#c8c8c8" stroke-width="0.5"/>
<circle cx="171.25" cy="474.50" r="2.1" fill="#fff" stroke="#c8c8c8" stroke-width="0.7"/>
<line x1="169.15" y1="474.50" x2="173.35" y2="474.50" stroke="#c8c8c8" stroke-width="0.5"/>
<line x1="171.25" y1="472.40" x2="171.25" y2="476.60" stroke="#c8c8c8" stroke-width="0.5"/>
<circle cx="186.25" cy="475.00" r="2.1" fill="#fff" stroke="#c8c8c8" stroke-width="0.7"/>
<line x1="184.15" y1="475.00" x2="188.35" y2="475.00" stroke="#c8c8c8" stroke-width="0.5"/>
<line x1="186.25" y1="472.90" x2="186.25" y2="477.10" stroke="#c8c8c8" stroke-width="0.5"/>
<line x1="79.35" y1="380.60" x2="83.15" y2="384.40" stroke="#c8c8c8" stroke-width="0.7"/>
<line x1="79.35" y1="384.40" x2="83.15" y2="380.60" stroke="#c8c8c8" stroke-width="0.7"/>
<line x1="94.35" y1="385.60" x2="98.15" y2="389.40" stroke="#c8c8c8" stroke-width="0.7"/>
<line x1="94.35" y1="389.40" x2="98.15" y2="385.60" stroke="#c8c8c8" stroke-width="0.7"/>
<line x1="109.35" y1="424.35" x2="113.15" y2="428.15" stroke="#c8c8c8" stroke-width="0.7"/>
<line x1="109.35" y1="428.15" x2="113.15" y2="424.35" stroke="#c8c8c8" stroke-width="0.7"/>
<line x1="124.35" y1="462.60" x2="128.15" y2="466.40" stroke="#c8c8c8" stroke-width="0.7"/>
<line x1="124.35" y1="466.40" x2="128.15" y2="462.60" stroke="#c8c8c8" stroke-width="0.7"/>
<line x1="139.35" y1="469.35" x2="143.15" y2="473.15" stroke="#c8c8c8" stroke-width="0.7"/>
<line x1="139.35" y1="473.15" x2="143.15" y2="469.35" stroke="#c8c8c8" stroke-width="0.7"/>
<line x1="154.35" y1="471.85" x2="158.15" y2="475.65" stroke="#c8c8c8" stroke-width="0.7"/>
<line x1="154.35" y1="475.65" x2="158.15" y2="471.85" stroke="#c8c8c8" stroke-width="0.7"/>
<line x1="169.35" y1="472.60" x2="173.15" y2="476.40" stroke="#c8c8c8" stroke-width="0.7"/>
<line x1="169.35" y1="476.40" x2="173.15" y2="472.60" stroke="#c8c8c8" stroke-width="0.7"/>
<line x1="184.35" y1="473.60" x2="188.15" y2="477.40" stroke="#c8c8c8" stroke-width="0.7"/>
<line x1="184.35" y1="477.40" x2="188.15" y2="473.60" stroke="#c8c8c8" stroke-width="0.7"/>
<polygon points="81.25,370.40 79.05,366.50 83.45,366.50" fill="#c8c8c8"/>
<polygon points="96.25,371.40 94.05,367.50 98.45,367.50" fill="#c8c8c8"/>
<polygon points="111.25,373.40 109.05,369.50 113.45,369.50" fill="#c8c8c8"/>
<polygon points="126.25,372.90 124.05,369.00 128.45,369.00" fill="#c8c8c8"/>
<polygon points="141.25,373.90 139.05,370.00 143.45,370.00" fill="#c8c8c8"/>
<polygon points="156.25,368.40 154.05,364.50 158.45,364.50" fill="#c8c8c8"/>
<polygon points="171.25,374.40 169.05,370.50 173.45,370.50" fill="#c8c8c8"/>
<polygon points="186.25,382.40 184.05,378.50 188.45,378.50" fill="#c8c8c8"/>
<polygon points="81.25,362.60 79.05,366.50 83.45,366.50" fill="#c8c8c8"/>
<polygon points="96.25,369.60 94.05,373.50 98.45,373.50" fill="#c8c8c8"/>
<polygon points="111.25,399.50 109.05,403.40 113.45,403.40" fill="#c8c8c8"/>
<polygon points="126.25,434.60 124.05,438.50 128.45,438.50" fill="#c8c8c8"/>
<polygon points="141.25,445.10 139.05,449.00 143.45,449.00" fill="#c8c8c8"/>
<polygon points="156.25,447.60 154.05,451.50 158.45,451.50" fill="#c8c8c8"/>
<polygon points="171.25,451.35 169.05,455.25 173.45,455.25" fill="#c8c8c8"/>
<polygon points="186.25,452.60 184.05,456.50 188.45,456.50" fill="#c8c8c8"/>
<polygon points="81.25,361.40 79.10,365.20 83.40,365.20" fill="#fff" stroke="#222" stroke-width="0.65"/>
<polygon points="96.25,366.10 94.10,369.90 98.40,369.90" fill="#fff" stroke="#222" stroke-width="0.65"/>
<polygon points="111.25,364.20 109.10,368.00 113.40,368.00" fill="#fff" stroke="#222" stroke-width="0.65"/>
<polygon points="126.25,368.40 124.10,372.20 128.40,372.20" fill="#fff" stroke="#222" stroke-width="0.65"/>
<polygon points="141.25,367.60 139.10,371.40 143.40,371.40" fill="#fff" stroke="#222" stroke-width="0.65"/>
<polygon points="156.25,369.60 154.10,373.40 158.40,373.40" fill="#fff" stroke="#222" stroke-width="0.65"/>
<polygon points="171.25,368.10 169.10,371.90 173.40,371.90" fill="#fff" stroke="#222" stroke-width="0.65"/>
<polygon points="186.25,376.35 184.10,380.15 188.40,380.15" fill="#fff" stroke="#222" stroke-width="0.65"/>
<circle cx="81.25" cy="367.50" r="2.1" fill="#fff" stroke="#222" stroke-width="0.7"/>
<line x1="79.15" y1="367.50" x2="83.35" y2="367.50" stroke="#222" stroke-width="0.5"/>
<circle cx="96.25" cy="370.50" r="2.1" fill="#fff" stroke="#222" stroke-width="0.7"/>
<line x1="94.15" y1="370.50" x2="98.35" y2="370.50" stroke="#222" stroke-width="0.5"/>
<circle cx="111.25" cy="373.50" r="2.1" fill="#fff" stroke="#222" stroke-width="0.7"/>
<line x1="109.15" y1="373.50" x2="113.35" y2="373.50" stroke="#222" stroke-width="0.5"/>
<circle cx="126.25" cy="377.00" r="2.1" fill="#fff" stroke="#222" stroke-width="0.7"/>
<line x1="124.15" y1="377.00" x2="128.35" y2="377.00" stroke="#222" stroke-width="0.5"/>
<circle cx="141.25" cy="380.75" r="2.1" fill="#fff" stroke="#222" stroke-width="0.7"/>
<line x1="139.15" y1="380.75" x2="143.35" y2="380.75" stroke="#222" stroke-width="0.5"/>
<circle cx="156.25" cy="386.75" r="2.1" fill="#fff" stroke="#222" stroke-width="0.7"/>
<line x1="154.15" y1="386.75" x2="158.35" y2="386.75" stroke="#222" stroke-width="0.5"/>
<circle cx="171.25" cy="386.25" r="2.1" fill="#fff" stroke="#222" stroke-width="0.7"/>
<line x1="169.15" y1="386.25" x2="173.35" y2="386.25" stroke="#222" stroke-width="0.5"/>
<circle cx="186.25" cy="382.00" r="2.1" fill="#fff" stroke="#222" stroke-width="0.7"/>
<line x1="184.15" y1="382.00" x2="188.35" y2="382.00" stroke="#222" stroke-width="0.5"/>
<circle cx="81.25" cy="366.00" r="2.1" fill="#fff" stroke="#222" stroke-width="0.7"/>
<line x1="79.15" y1="366.00" x2="83.35" y2="366.00" stroke="#222" stroke-width="0.5"/>
<circle cx="96.25" cy="387.50" r="2.1" fill="#fff" stroke="#222" stroke-width="0.7"/>
<line x1="94.15" y1="387.50" x2="98.35" y2="387.50" stroke="#222" stroke-width="0.5"/>
<circle cx="111.25" cy="392.00" r="2.1" fill="#fff" stroke="#222" stroke-width="0.7"/>
<line x1="109.15" y1="392.00" x2="113.35" y2="392.00" stroke="#222" stroke-width="0.5"/>
<circle cx="126.25" cy="440.00" r="2.1" fill="#fff" stroke="#222" stroke-width="0.7"/>
<line x1="124.15" y1="440.00" x2="128.35" y2="440.00" stroke="#222" stroke-width="0.5"/>
<circle cx="141.25" cy="451.25" r="2.1" fill="#fff" stroke="#222" stroke-width="0.7"/>
<line x1="139.15" y1="451.25" x2="143.35" y2="451.25" stroke="#222" stroke-width="0.5"/>
<circle cx="156.25" cy="456.25" r="2.1" fill="#fff" stroke="#222" stroke-width="0.7"/>
<line x1="154.15" y1="456.25" x2="158.35" y2="456.25" stroke="#222" stroke-width="0.5"/>
<circle cx="171.25" cy="458.75" r="2.1" fill="#fff" stroke="#222" stroke-width="0.7"/>
<line x1="169.15" y1="458.75" x2="173.35" y2="458.75" stroke="#222" stroke-width="0.5"/>
<circle cx="186.25" cy="463.75" r="2.1" fill="#fff" stroke="#222" stroke-width="0.7"/>
<line x1="184.15" y1="463.75" x2="188.35" y2="463.75" stroke="#222" stroke-width="0.5"/>
<polygon points="81.25,369.40 79.10,365.60 83.40,365.60" fill="#fff" stroke="#222" stroke-width="0.65"/>
<line x1="81.25" y1="365.40" x2="81.25" y2="369.40" stroke="#222" stroke-width="0.5"/>
<polygon points="96.25,390.90 94.10,387.10 98.40,387.10" fill="#fff" stroke="#222" stroke-width="0.65"/>
<line x1="96.25" y1="386.90" x2="96.25" y2="390.90" stroke="#222" stroke-width="0.5"/>
<polygon points="111.25,410.40 109.10,406.60 113.40,406.60" fill="#fff" stroke="#222" stroke-width="0.65"/>
<line x1="111.25" y1="406.40" x2="111.25" y2="410.40" stroke="#222" stroke-width="0.5"/>
<polygon points="126.25,443.65 124.10,439.85 128.40,439.85" fill="#fff" stroke="#222" stroke-width="0.65"/>
<line x1="126.25" y1="439.65" x2="126.25" y2="443.65" stroke="#222" stroke-width="0.5"/>
<polygon points="141.25,458.65 139.10,454.85 143.40,454.85" fill="#fff" stroke="#222" stroke-width="0.65"/>
<line x1="141.25" y1="454.65" x2="141.25" y2="458.65" stroke="#222" stroke-width="0.5"/>
<polygon points="156.25,458.65 154.10,454.85 158.40,454.85" fill="#fff" stroke="#222" stroke-width="0.65"/>
<line x1="156.25" y1="454.65" x2="156.25" y2="458.65" stroke="#222" stroke-width="0.5"/>
<polygon points="171.25,461.90 169.10,458.10 173.40,458.10" fill="#fff" stroke="#222" stroke-width="0.65"/>
<line x1="171.25" y1="457.90" x2="171.25" y2="461.90" stroke="#222" stroke-width="0.5"/>
<polygon points="186.25,466.15 184.10,462.35 188.40,462.35" fill="#fff" stroke="#222" stroke-width="0.65"/>
<line x1="186.25" y1="462.15" x2="186.25" y2="466.15" stroke="#222" stroke-width="0.5"/>
<line x1="78.95" y1="366.50" x2="83.55" y2="366.50" stroke="#222" stroke-width="0.7"/>
<line x1="79.75" y1="364.60" x2="82.75" y2="368.40" stroke="#222" stroke-width="0.7"/>
<line x1="79.75" y1="368.40" x2="82.75" y2="364.60" stroke="#222" stroke-width="0.7"/>
<line x1="81.25" y1="364.30" x2="81.25" y2="368.70" stroke="#222" stroke-width="0.6"/>
<line x1="93.95" y1="364.40" x2="98.55" y2="364.40" stroke="#222" stroke-width="0.7"/>
<line x1="94.75" y1="362.50" x2="97.75" y2="366.30" stroke="#222" stroke-width="0.7"/>
<line x1="94.75" y1="366.30" x2="97.75" y2="362.50" stroke="#222" stroke-width="0.7"/>
<line x1="96.25" y1="362.20" x2="96.25" y2="366.60" stroke="#222" stroke-width="0.6"/>
<line x1="108.95" y1="385.00" x2="113.55" y2="385.00" stroke="#222" stroke-width="0.7"/>
<line x1="109.75" y1="383.10" x2="112.75" y2="386.90" stroke="#222" stroke-width="0.7"/>
<line x1="109.75" y1="386.90" x2="112.75" y2="383.10" stroke="#222" stroke-width="0.7"/>
<line x1="111.25" y1="382.80" x2="111.25" y2="387.20" stroke="#222" stroke-width="0.6"/>
<line x1="123.95" y1="420.60" x2="128.55" y2="420.60" stroke="#222" stroke-width="0.7"/>
<line x1="124.75" y1="418.70" x2="127.75" y2="422.50" stroke="#222" stroke-width="0.7"/>
<line x1="124.75" y1="422.50" x2="127.75" y2="418.70" stroke="#222" stroke-width="0.7"/>
<line x1="126.25" y1="418.40" x2="126.25" y2="422.80" stroke="#222" stroke-width="0.6"/>
<line x1="138.95" y1="430.00" x2="143.55" y2="430.00" stroke="#222" stroke-width="0.7"/>
<line x1="139.75" y1="428.10" x2="142.75" y2="431.90" stroke="#222" stroke-width="0.7"/>
<line x1="139.75" y1="431.90" x2="142.75" y2="428.10" stroke="#222" stroke-width="0.7"/>
<line x1="141.25" y1="427.80" x2="141.25" y2="432.20" stroke="#222" stroke-width="0.6"/>
<line x1="153.95" y1="433.75" x2="158.55" y2="433.75" stroke="#222" stroke-width="0.7"/>
<line x1="154.75" y1="431.85" x2="157.75" y2="435.65" stroke="#222" stroke-width="0.7"/>
<line x1="154.75" y1="435.65" x2="157.75" y2="431.85" stroke="#222" stroke-width="0.7"/>
<line x1="156.25" y1="431.55" x2="156.25" y2="435.95" stroke="#222" stroke-width="0.6"/>
<line x1="168.95" y1="437.50" x2="173.55" y2="437.50" stroke="#222" stroke-width="0.7"/>
<line x1="169.75" y1="435.60" x2="172.75" y2="439.40" stroke="#222" stroke-width="0.7"/>
<line x1="169.75" y1="439.40" x2="172.75" y2="435.60" stroke="#222" stroke-width="0.7"/>
<line x1="171.25" y1="435.30" x2="171.25" y2="439.70" stroke="#222" stroke-width="0.6"/>
<line x1="183.95" y1="447.00" x2="188.55" y2="447.00" stroke="#222" stroke-width="0.7"/>
<line x1="184.75" y1="445.10" x2="187.75" y2="448.90" stroke="#222" stroke-width="0.7"/>
<line x1="184.75" y1="448.90" x2="187.75" y2="445.10" stroke="#222" stroke-width="0.7"/>
<line x1="186.25" y1="444.80" x2="186.25" y2="449.20" stroke="#222" stroke-width="0.6"/>
<rect x="79.25" y="372.40" width="4.00" height="4.00" fill="#000"/>
<rect x="94.25" y="369.00" width="4.00" height="4.00" fill="#000"/>
<rect x="109.25" y="374.50" width="4.00" height="4.00" fill="#000"/>
<rect x="124.25" y="375.75" width="4.00" height="4.00" fill="#000"/>
<rect x="139.25" y="373.00" width="4.00" height="4.00" fill="#000"/>
<rect x="154.25" y="377.50" width="4.00" height="4.00" fill="#000"/>
<rect x="169.25" y="384.25" width="4.00" height="4.00" fill="#000"/>
<rect x="184.25" y="399.25" width="4.00" height="4.00" fill="#000"/>
<circle cx="81.25" cy="372.50" r="2.10" fill="#000"/>
<circle cx="96.25" cy="376.90" r="2.10" fill="#000"/>
<circle cx="111.25" cy="395.25" r="2.10" fill="#000"/>
<circle cx="126.25" cy="430.40" r="2.10" fill="#000"/>
<circle cx="141.25" cy="462.50" r="2.10" fill="#000"/>
<circle cx="156.25" cy="465.50" r="2.10" fill="#000"/>
<circle cx="171.25" cy="469.50" r="2.10" fill="#000"/>
<circle cx="186.25" cy="470.50" r="2.10" fill="#000"/>
<circle cx="171.25" cy="386.25" r="2.20" fill="#000"/>
<line x1="74.50" y1="360.50" x2="74.50" y2="477.40" stroke="#8a8a8a" stroke-width="0.9"/>
<line x1="74.10" y1="477.00" x2="193.40" y2="477.00" stroke="#8a8a8a" stroke-width="0.9"/>
<line x1="72.30" y1="370.50" x2="74.50" y2="370.50" stroke="#8a8a8a" stroke-width="0.8"/>
<text x="72.00" y="373.20" font-size="7.4" text-anchor="end" fill="#111" stroke="#111">100</text>
<line x1="72.30" y1="397.10" x2="74.50" y2="397.10" stroke="#8a8a8a" stroke-width="0.8"/>
<text x="72.00" y="399.80" font-size="7.4" text-anchor="end" fill="#111" stroke="#111">75</text>
<line x1="72.30" y1="423.70" x2="74.50" y2="423.70" stroke="#8a8a8a" stroke-width="0.8"/>
<text x="72.00" y="426.40" font-size="7.4" text-anchor="end" fill="#111" stroke="#111">50</text>
<line x1="72.30" y1="450.20" x2="74.50" y2="450.20" stroke="#8a8a8a" stroke-width="0.8"/>
<text x="72.00" y="452.90" font-size="7.4" text-anchor="end" fill="#111" stroke="#111">25</text>
<line x1="72.30" y1="476.80" x2="74.50" y2="476.80" stroke="#8a8a8a" stroke-width="0.8"/>
<text x="72.00" y="479.50" font-size="7.4" text-anchor="end" fill="#111" stroke="#111">0</text>
<line x1="73.30" y1="383.80" x2="74.50" y2="383.80" stroke="#8a8a8a" stroke-width="0.6"/>
<line x1="73.30" y1="410.40" x2="74.50" y2="410.40" stroke="#8a8a8a" stroke-width="0.6"/>
<line x1="73.30" y1="437.00" x2="74.50" y2="437.00" stroke="#8a8a8a" stroke-width="0.6"/>
<line x1="73.30" y1="463.50" x2="74.50" y2="463.50" stroke="#8a8a8a" stroke-width="0.6"/>
<line x1="85.40" y1="477.00" x2="85.40" y2="479.20" stroke="#8a8a8a" stroke-width="0.8"/>
<text x="84.60" y="488.20" font-size="7.4" text-anchor="middle" fill="#111" stroke="#111">−1</text>
<line x1="106.95" y1="477.00" x2="106.95" y2="479.20" stroke="#8a8a8a" stroke-width="0.8"/>
<text x="106.95" y="488.20" font-size="7.4" text-anchor="middle" fill="#111" stroke="#111">0</text>
<line x1="128.50" y1="477.00" x2="128.50" y2="479.20" stroke="#8a8a8a" stroke-width="0.8"/>
<text x="128.50" y="488.20" font-size="7.4" text-anchor="middle" fill="#111" stroke="#111">1</text>
<line x1="150.05" y1="477.00" x2="150.05" y2="479.20" stroke="#8a8a8a" stroke-width="0.8"/>
<text x="150.05" y="488.20" font-size="7.4" text-anchor="middle" fill="#111" stroke="#111">2</text>
<line x1="171.60" y1="477.00" x2="171.60" y2="479.20" stroke="#8a8a8a" stroke-width="0.8"/>
<text x="171.60" y="488.20" font-size="7.4" text-anchor="middle" fill="#111" stroke="#111">3</text>
<line x1="193.15" y1="477.00" x2="193.15" y2="479.20" stroke="#8a8a8a" stroke-width="0.8"/>
<text x="193.15" y="488.20" font-size="7.4" text-anchor="middle" fill="#111" stroke="#111">4</text>
<text x="137.50" y="496.90" font-size="7.7" text-anchor="middle" fill="#111" stroke="#111">Log IC<tspan font-size="4.4" dy="1.6">50</tspan><tspan dy="-1.6"> (pmol/L)</tspan></text>
<text x="58.00" y="420.00" font-size="7.4" text-anchor="middle" transform="rotate(-90 58.00 420.00)" fill="#111" stroke="#111">% Growth of vehicle</text>
<g transform="translate(209.70 371.60) scale(0.8) translate(-209.70 -371.60)">
<polygon points="209.70,374.00 207.50,370.10 211.90,370.10" fill="#c8c8c8"/>
</g>
<text x="215.40" y="374.30" font-size="7.4" fill="#111" stroke="#111">NB-69</text>
<g transform="translate(209.70 380.00) scale(0.8) translate(-209.70 -380.00)">
<polygon points="209.70,377.60 207.55,381.40 211.85,381.40" fill="#fff" stroke="#222" stroke-width="0.65"/>
</g>
<text x="215.40" y="382.70" font-size="7.4" fill="#111" stroke="#111">SK-N-AS</text>
<g transform="translate(209.70 388.20) scale(0.8) translate(-209.70 -388.20)">
<circle cx="209.70" cy="388.20" r="2.1" fill="#fff" stroke="#222" stroke-width="0.7"/>
<line x1="207.60" y1="388.20" x2="211.80" y2="388.20" stroke="#222" stroke-width="0.5"/>
</g>
<text x="215.40" y="390.90" font-size="7.4" fill="#111" stroke="#111">NB-SD</text>
<g transform="translate(209.70 397.60) scale(0.8) translate(-209.70 -397.60)">
<rect x="207.70" y="395.60" width="4.00" height="4.00" fill="#000"/>
</g>
<text x="215.40" y="400.30" font-size="7.4" fill="#111" stroke="#111">NBL-S</text>
<g transform="translate(209.70 427.00) scale(0.8) translate(-209.70 -427.00)">
<line x1="207.40" y1="427.00" x2="212.00" y2="427.00" stroke="#222" stroke-width="0.7"/>
<line x1="208.20" y1="425.10" x2="211.20" y2="428.90" stroke="#222" stroke-width="0.7"/>
<line x1="208.20" y1="428.90" x2="211.20" y2="425.10" stroke="#222" stroke-width="0.7"/>
<line x1="209.70" y1="424.80" x2="209.70" y2="429.20" stroke="#222" stroke-width="0.6"/>
</g>
<text x="215.40" y="429.70" font-size="7.4" fill="#111" stroke="#111">NGP</text>
<g transform="translate(209.70 436.50) scale(0.8) translate(-209.70 -436.50)">
<polygon points="209.70,434.10 207.50,438.00 211.90,438.00" fill="#c8c8c8"/>
</g>
<text x="215.40" y="439.20" font-size="7.4" fill="#111" stroke="#111">NB-1643</text>
<g transform="translate(209.70 446.20) scale(0.8) translate(-209.70 -446.20)">
<polygon points="209.70,448.60 207.55,444.80 211.85,444.80" fill="#fff" stroke="#222" stroke-width="0.65"/>
<line x1="209.70" y1="444.60" x2="209.70" y2="448.60" stroke="#222" stroke-width="0.5"/>
</g>
<text x="215.40" y="448.90" font-size="7.4" fill="#111" stroke="#111">LA-N-5</text>
<g transform="translate(209.70 455.50) scale(0.8) translate(-209.70 -455.50)">
<circle cx="209.70" cy="455.50" r="2.1" fill="#fff" stroke="#222" stroke-width="0.7"/>
<line x1="207.60" y1="455.50" x2="211.80" y2="455.50" stroke="#222" stroke-width="0.5"/>
</g>
<text x="215.40" y="458.20" font-size="7.4" fill="#111" stroke="#111">IMR-5</text>
<g transform="translate(209.70 464.70) scale(0.8) translate(-209.70 -464.70)">
<circle cx="209.70" cy="464.70" r="2.10" fill="#000"/>
</g>
<text x="215.40" y="467.40" font-size="7.4" fill="#111" stroke="#111">SMS-SAN</text>
<g transform="translate(209.70 472.70) scale(0.8) translate(-209.70 -472.70)">
<line x1="207.80" y1="470.80" x2="211.60" y2="474.60" stroke="#c8c8c8" stroke-width="0.7"/>
<line x1="207.80" y1="474.60" x2="211.60" y2="470.80" stroke="#c8c8c8" stroke-width="0.7"/>
</g>
<text x="215.40" y="475.40" font-size="7.4" fill="#111" stroke="#111">CHP-134</text>
<g transform="translate(209.70 480.40) scale(0.8) translate(-209.70 -480.40)">
<circle cx="209.70" cy="480.40" r="2.1" fill="#fff" stroke="#c8c8c8" stroke-width="0.7"/>
<line x1="207.60" y1="480.40" x2="211.80" y2="480.40" stroke="#c8c8c8" stroke-width="0.5"/>
<line x1="209.70" y1="478.30" x2="209.70" y2="482.50" stroke="#c8c8c8" stroke-width="0.5"/>
</g>
<text x="215.40" y="483.10" font-size="7.4" fill="#111" stroke="#111">NB-EbC1</text>
</g>
<g id="panelG">
<line x1="37.50" y1="540.80" x2="37.50" y2="665.00" stroke="#222" stroke-width="0.9"/>
<line x1="37.10" y1="664.60" x2="162.20" y2="664.60" stroke="#222" stroke-width="0.9"/>
<line x1="35.20" y1="541.25" x2="37.50" y2="541.25" stroke="#222" stroke-width="0.8"/>
<text x="34.60" y="543.95" font-size="7.4" text-anchor="end" fill="#111" stroke="#111">6<tspan dx="1.1">×</tspan><tspan dx="1.1">10</tspan><tspan font-size="4.2" dy="-3.0">6</tspan></text>
<line x1="35.20" y1="582.40" x2="37.50" y2="582.40" stroke="#222" stroke-width="0.8"/>
<text x="34.60" y="585.10" font-size="7.4" text-anchor="end" fill="#111" stroke="#111">4<tspan dx="1.1">×</tspan><tspan dx="1.1">10</tspan><tspan font-size="4.2" dy="-3.0">6</tspan></text>
<line x1="35.20" y1="623.50" x2="37.50" y2="623.50" stroke="#222" stroke-width="0.8"/>
<text x="34.60" y="626.20" font-size="7.4" text-anchor="end" fill="#111" stroke="#111">2<tspan dx="1.1">×</tspan><tspan dx="1.1">10</tspan><tspan font-size="4.2" dy="-3.0">6</tspan></text>
<line x1="35.20" y1="664.60" x2="37.50" y2="664.60" stroke="#222" stroke-width="0.8"/>
<text x="34.40" y="667.30" font-size="7.4" text-anchor="end" fill="#111" stroke="#111">0</text>
<line x1="37.50" y1="664.60" x2="37.50" y2="666.90" stroke="#222" stroke-width="0.8"/>
<text x="37.50" y="675.60" font-size="7.4" text-anchor="middle" fill="#111" stroke="#111">0</text>
<line x1="79.00" y1="664.60" x2="79.00" y2="666.90" stroke="#222" stroke-width="0.8"/>
<text x="79.00" y="675.60" font-size="7.4" text-anchor="middle" fill="#111" stroke="#111">5,000</text>
<line x1="120.40" y1="664.60" x2="120.40" y2="666.90" stroke="#222" stroke-width="0.8"/>
<text x="120.40" y="675.60" font-size="7.4" text-anchor="middle" fill="#111" stroke="#111">10,000</text>
<line x1="161.80" y1="664.60" x2="161.80" y2="666.90" stroke="#222" stroke-width="0.8"/>
<text x="161.80" y="675.60" font-size="7.4" text-anchor="middle" fill="#111" stroke="#111">15,000</text>
<text x="97.30" y="687.20" font-size="7.7" text-anchor="middle" fill="#111" stroke="#111">GPC2 molecules/cell</text>
<text x="7.50" y="607.00" font-size="7.4" text-anchor="middle" transform="rotate(-90 7.50 607.00)" fill="#111" stroke="#111">D3-GPC2-IgG1-Red AUC</text>
<circle cx="112.00" cy="553.00" r="2.05" fill="#000"/>
<text x="99.50" y="550.00" font-size="5.4" text-anchor="middle" fill="#111" stroke="#111">NB-1643</text>
<circle cx="138.00" cy="562.50" r="2.05" fill="#000"/>
<text x="135.60" y="575.00" font-size="5.4" text-anchor="middle" fill="#111" stroke="#111">NB-EbC1</text>
<circle cx="106.20" cy="584.50" r="2.05" fill="#000"/>
<text x="100.50" y="581.10" font-size="5.4" text-anchor="middle" fill="#111" stroke="#111">LAN-5</text>
<circle cx="129.80" cy="609.40" r="2.05" fill="#000"/>
<text x="135.50" y="605.10" font-size="5.4" text-anchor="middle" fill="#111" stroke="#111">SMS-SAN</text>
<circle cx="90.50" cy="616.00" r="2.05" fill="#000"/>
<text x="90.60" y="612.10" font-size="5.4" text-anchor="middle" fill="#111" stroke="#111">NB69</text>
<circle cx="143.00" cy="627.50" r="2.05" fill="#000"/>
<text x="143.10" y="636.60" font-size="5.4" text-anchor="middle" fill="#111" stroke="#111">NB-SD</text>
<circle cx="83.75" cy="635.00" r="2.05" fill="#000"/>
<text x="78.00" y="631.60" font-size="5.4" text-anchor="middle" fill="#111" stroke="#111">NGP</text>
<circle cx="57.50" cy="648.25" r="2.05" fill="#000"/>
<text x="52.20" y="644.60" font-size="5.4" text-anchor="middle" fill="#111" stroke="#111">NBL-S</text>
<circle cx="62.50" cy="650.00" r="2.05" fill="#000"/>
<text x="67.50" y="659.10" font-size="5.4" text-anchor="middle" fill="#111" stroke="#111">SK-N-AS</text>
<circle cx="71.75" cy="647.50" r="2.05" fill="#000"/>
<text x="74.40" y="644.60" font-size="5.4" text-anchor="middle" fill="#111" stroke="#111">IMR-5</text>
<circle cx="87.50" cy="648.75" r="2.05" fill="#000"/>
<text x="100.60" y="656.60" font-size="5.4" text-anchor="middle" fill="#111" stroke="#111">CHP-134</text>
</g>
<g id="panelH">
<line x1="217.20" y1="540.80" x2="217.20" y2="665.00" stroke="#222" stroke-width="0.9"/>
<line x1="216.80" y1="664.60" x2="311.40" y2="664.60" stroke="#222" stroke-width="0.9"/>
<line x1="318.80" y1="664.60" x2="341.30" y2="664.60" stroke="#222" stroke-width="0.9"/>
<line x1="318.80" y1="662.80" x2="318.80" y2="666.90" stroke="#222" stroke-width="0.8"/>
<line x1="341.30" y1="662.80" x2="341.30" y2="666.90" stroke="#222" stroke-width="0.8"/>
<line x1="214.90" y1="541.25" x2="217.20" y2="541.25" stroke="#222" stroke-width="0.8"/>
<text x="214.30" y="543.95" font-size="7.4" text-anchor="end" fill="#111" stroke="#111">6<tspan dx="1.1">×</tspan><tspan dx="1.1">10</tspan><tspan font-size="4.2" dy="-3.0">6</tspan></text>
<line x1="214.90" y1="582.40" x2="217.20" y2="582.40" stroke="#222" stroke-width="0.8"/>
<text x="214.30" y="585.10" font-size="7.4" text-anchor="end" fill="#111" stroke="#111">4<tspan dx="1.1">×</tspan><tspan dx="1.1">10</tspan><tspan font-size="4.2" dy="-3.0">6</tspan></text>
<line x1="214.90" y1="623.50" x2="217.20" y2="623.50" stroke="#222" stroke-width="0.8"/>
<text x="214.30" y="626.20" font-size="7.4" text-anchor="end" fill="#111" stroke="#111">2<tspan dx="1.1">×</tspan><tspan dx="1.1">10</tspan><tspan font-size="4.2" dy="-3.0">6</tspan></text>
<line x1="214.90" y1="664.60" x2="217.20" y2="664.60" stroke="#222" stroke-width="0.8"/>
<text x="214.10" y="667.30" font-size="7.4" text-anchor="end" fill="#111" stroke="#111">0</text>
<line x1="217.20" y1="664.60" x2="217.20" y2="666.90" stroke="#222" stroke-width="0.8"/>
<line x1="226.60" y1="664.60" x2="226.60" y2="665.90" stroke="#222" stroke-width="0.6"/>
<text x="217.20" y="675.60" font-size="7.4" text-anchor="middle" fill="#111" stroke="#111">0</text>
<line x1="236.00" y1="664.60" x2="236.00" y2="666.90" stroke="#222" stroke-width="0.8"/>
<line x1="245.40" y1="664.60" x2="245.40" y2="665.90" stroke="#222" stroke-width="0.6"/>
<text x="236.00" y="675.60" font-size="7.4" text-anchor="middle" fill="#111" stroke="#111">2</text>
<line x1="254.80" y1="664.60" x2="254.80" y2="666.90" stroke="#222" stroke-width="0.8"/>
<line x1="264.20" y1="664.60" x2="264.20" y2="665.90" stroke="#222" stroke-width="0.6"/>
<text x="254.80" y="675.60" font-size="7.4" text-anchor="middle" fill="#111" stroke="#111">4</text>
<line x1="273.60" y1="664.60" x2="273.60" y2="666.90" stroke="#222" stroke-width="0.8"/>
<line x1="283.00" y1="664.60" x2="283.00" y2="665.90" stroke="#222" stroke-width="0.6"/>
<text x="273.60" y="675.60" font-size="7.4" text-anchor="middle" fill="#111" stroke="#111">6</text>
<line x1="292.40" y1="664.60" x2="292.40" y2="666.90" stroke="#222" stroke-width="0.8"/>
<line x1="301.80" y1="664.60" x2="301.80" y2="665.90" stroke="#222" stroke-width="0.6"/>
<text x="292.40" y="675.60" font-size="7.4" text-anchor="middle" fill="#111" stroke="#111">8</text>
<line x1="311.20" y1="664.60" x2="311.20" y2="666.90" stroke="#222" stroke-width="0.8"/>
<text x="311.20" y="675.60" font-size="7.4" text-anchor="middle" fill="#111" stroke="#111">10</text>
<text x="338.60" y="675.60" font-size="7.4" text-anchor="middle" fill="#111" stroke="#111">&gt;5,000</text>
<text x="280.00" y="686.60" font-size="7.6" text-anchor="middle" fill="#111" stroke="#111">ADC IC<tspan font-size="4.4" dy="1.6">50</tspan><tspan dy="-1.6"> (pmol/L)</tspan></text>
<text x="184.20" y="605.60" font-size="7.4" text-anchor="middle" transform="rotate(-90 184.20 605.60)" fill="#111" stroke="#111">D3-GPC2-IgG1-Red AUC</text>
<circle cx="245.00" cy="552.60" r="2.05" fill="#000"/>
<text x="249.50" y="555.20" font-size="5.4" fill="#111" stroke="#111">NB-1643</text>
<circle cx="274.20" cy="562.50" r="2.05" fill="#000"/>
<text x="278.80" y="565.10" font-size="5.4" fill="#111" stroke="#111">NB-EbC1</text>
<circle cx="233.75" cy="584.50" r="2.05" fill="#000"/>
<text x="238.20" y="587.10" font-size="5.4" fill="#111" stroke="#111">LA-N-5</text>
<circle cx="256.20" cy="608.80" r="2.05" fill="#000"/>
<text x="260.60" y="611.30" font-size="5.4" fill="#111" stroke="#111">SMS-SAN</text>
<circle cx="243.75" cy="634.50" r="2.05" fill="#000"/>
<text x="247.60" y="637.10" font-size="5.4" fill="#111" stroke="#111">NGP</text>
<circle cx="231.75" cy="648.25" r="2.05" fill="#000"/>
<text x="236.20" y="650.80" font-size="5.4" fill="#111" stroke="#111">CHP-134</text>
<circle cx="263.25" cy="647.00" r="2.05" fill="#000"/>
<text x="267.40" y="648.60" font-size="5.4" fill="#111" stroke="#111">IMR-5</text>
<circle cx="340.75" cy="615.75" r="2.05" fill="#000"/>
<text x="337.20" y="612.90" font-size="5.4" text-anchor="end" fill="#111" stroke="#111">NB69</text>
<circle cx="340.75" cy="627.00" r="2.05" fill="#000"/>
<text x="338.00" y="625.00" font-size="5.4" text-anchor="end" fill="#111" stroke="#111">NB-SD</text>
<circle cx="340.75" cy="647.50" r="2.05" fill="#000"/>
<text x="340.00" y="644.50" font-size="5.4" text-anchor="end" fill="#111" stroke="#111">NBL-S</text>
<circle cx="340.75" cy="650.00" r="2.05" fill="#000"/>
<text x="342.50" y="658.00" font-size="5.4" text-anchor="end" fill="#111" stroke="#111">SK-N-AS</text>
</g>
<g id="panelI">
<line x1="389.40" y1="539.60" x2="389.40" y2="575.60" stroke="#222" stroke-width="0.9"/>
<line x1="389.40" y1="581.20" x2="389.40" y2="663.70" stroke="#222" stroke-width="0.9"/>
<line x1="387.60" y1="575.60" x2="391.20" y2="575.60" stroke="#222" stroke-width="0.8"/>
<line x1="387.60" y1="581.20" x2="391.20" y2="581.20" stroke="#222" stroke-width="0.8"/>
<line x1="387.10" y1="540.00" x2="389.40" y2="540.00" stroke="#222" stroke-width="0.8"/>
<text x="386.40" y="542.70" font-size="7.4" text-anchor="end" fill="#111" stroke="#111">600</text>
<line x1="387.10" y1="554.10" x2="389.40" y2="554.10" stroke="#222" stroke-width="0.8"/>
<text x="386.40" y="556.80" font-size="7.4" text-anchor="end" fill="#111" stroke="#111">400</text>
<line x1="387.10" y1="568.20" x2="389.40" y2="568.20" stroke="#222" stroke-width="0.8"/>
<text x="386.40" y="570.90" font-size="7.4" text-anchor="end" fill="#111" stroke="#111">200</text>
<line x1="387.10" y1="582.60" x2="389.40" y2="582.60" stroke="#222" stroke-width="0.8"/>
<text x="386.40" y="585.30" font-size="7.4" text-anchor="end" fill="#111" stroke="#111">60</text>
<line x1="387.10" y1="609.50" x2="389.40" y2="609.50" stroke="#222" stroke-width="0.8"/>
<text x="386.40" y="612.20" font-size="7.4" text-anchor="end" fill="#111" stroke="#111">40</text>
<line x1="387.10" y1="636.40" x2="389.40" y2="636.40" stroke="#222" stroke-width="0.8"/>
<text x="386.40" y="639.10" font-size="7.4" text-anchor="end" fill="#111" stroke="#111">20</text>
<line x1="387.10" y1="663.30" x2="389.40" y2="663.30" stroke="#222" stroke-width="0.8"/>
<text x="386.40" y="666.00" font-size="7.4" text-anchor="end" fill="#111" stroke="#111">0</text>
<line x1="388.10" y1="547.00" x2="389.40" y2="547.00" stroke="#222" stroke-width="0.6"/>
<line x1="388.10" y1="561.10" x2="389.40" y2="561.10" stroke="#222" stroke-width="0.6"/>
<line x1="388.10" y1="596.00" x2="389.40" y2="596.00" stroke="#222" stroke-width="0.6"/>
<line x1="388.10" y1="622.90" x2="389.40" y2="622.90" stroke="#222" stroke-width="0.6"/>
<line x1="388.10" y1="649.80" x2="389.40" y2="649.80" stroke="#222" stroke-width="0.6"/>
<line x1="389.00" y1="663.30" x2="483.80" y2="663.30" stroke="#222" stroke-width="0.9"/>
<line x1="490.50" y1="663.30" x2="513.00" y2="663.30" stroke="#222" stroke-width="0.9"/>
<line x1="490.50" y1="661.50" x2="490.50" y2="665.60" stroke="#222" stroke-width="0.8"/>
<line x1="513.00" y1="661.50" x2="513.00" y2="665.60" stroke="#222" stroke-width="0.8"/>
<line x1="388.80" y1="663.30" x2="388.80" y2="665.60" stroke="#222" stroke-width="0.8"/>
<line x1="398.25" y1="663.30" x2="398.25" y2="664.60" stroke="#222" stroke-width="0.6"/>
<text x="388.80" y="675.20" font-size="7.4" text-anchor="middle" fill="#111" stroke="#111">0</text>
<line x1="407.70" y1="663.30" x2="407.70" y2="665.60" stroke="#222" stroke-width="0.8"/>
<line x1="417.15" y1="663.30" x2="417.15" y2="664.60" stroke="#222" stroke-width="0.6"/>
<text x="407.70" y="675.20" font-size="7.4" text-anchor="middle" fill="#111" stroke="#111">2</text>
<line x1="426.60" y1="663.30" x2="426.60" y2="665.60" stroke="#222" stroke-width="0.8"/>
<line x1="436.05" y1="663.30" x2="436.05" y2="664.60" stroke="#222" stroke-width="0.6"/>
<text x="426.60" y="675.20" font-size="7.4" text-anchor="middle" fill="#111" stroke="#111">4</text>
<line x1="445.50" y1="663.30" x2="445.50" y2="665.60" stroke="#222" stroke-width="0.8"/>
<line x1="454.95" y1="663.30" x2="454.95" y2="664.60" stroke="#222" stroke-width="0.6"/>
<text x="445.50" y="675.20" font-size="7.4" text-anchor="middle" fill="#111" stroke="#111">6</text>
<line x1="464.40" y1="663.30" x2="464.40" y2="665.60" stroke="#222" stroke-width="0.8"/>
<line x1="473.85" y1="663.30" x2="473.85" y2="664.60" stroke="#222" stroke-width="0.6"/>
<text x="464.40" y="675.20" font-size="7.4" text-anchor="middle" fill="#111" stroke="#111">8</text>
<line x1="483.30" y1="663.30" x2="483.30" y2="665.60" stroke="#222" stroke-width="0.8"/>
<text x="483.30" y="675.20" font-size="7.4" text-anchor="middle" fill="#111" stroke="#111">10</text>
<text x="520.60" y="675.20" font-size="7.4" text-anchor="end" fill="#111" stroke="#111">&gt;5,000</text>
<text x="453.30" y="686.60" font-size="7.6" text-anchor="middle" fill="#111" stroke="#111">ADC IC<tspan font-size="4.4" dy="1.6">50</tspan><tspan dy="-1.6"> (pmol/L)</tspan></text>
<text x="370.60" y="602.00" font-size="7.4" text-anchor="middle" transform="rotate(-90 370.60 602.00)" fill="#111" stroke="#111">PBD IC<tspan font-size="4.3" dy="1.6">50</tspan><tspan dy="-1.6"> (pmol/L)</tspan></text>
<circle cx="417.50" cy="597.00" r="6.50" fill="#000"/>
<text x="422.50" y="590.00" font-size="5.5" fill="#111" stroke="#111">NB-1643</text>
<circle cx="446.25" cy="615.50" r="6.60" fill="#000"/>
<text x="452.60" y="611.60" font-size="5.5" fill="#111" stroke="#111">NB-EbC1</text>
<circle cx="428.50" cy="633.75" r="3.80" fill="#000"/>
<text x="433.60" y="635.00" font-size="5.5" fill="#111" stroke="#111">SMS-SAN</text>
<circle cx="405.60" cy="645.30" r="6.60" fill="#000"/>
<text x="392.20" y="637.00" font-size="5.5" fill="#111" stroke="#111">LA-N-5</text>
<circle cx="415.60" cy="645.00" r="2.50" fill="#000"/>
<text x="418.80" y="650.00" font-size="5.5" fill="#111" stroke="#111">NGP</text>
<circle cx="435.30" cy="641.80" r="1.00" fill="#000"/>
<text x="437.20" y="645.80" font-size="5.5" fill="#111" stroke="#111">IMR-5</text>
<circle cx="403.80" cy="655.00" r="1.00" fill="#000"/>
<text x="405.20" y="658.80" font-size="5.5" fill="#111" stroke="#111">CHP-134</text>
<circle cx="512.70" cy="546.90" r="2.70" fill="#000"/>
<text x="514.40" y="555.00" font-size="5.5" text-anchor="end" fill="#111" stroke="#111">NB-SD</text>
<circle cx="512.70" cy="571.70" r="4.10" fill="#000"/>
<text x="511.60" y="567.00" font-size="5.5" text-anchor="end" fill="#111" stroke="#111">NB69</text>
<circle cx="512.70" cy="604.60" r="0.90" fill="#000"/>
<text x="517.60" y="600.50" font-size="5.5" text-anchor="end" fill="#111" stroke="#111">SK-N-AS</text>
<circle cx="512.60" cy="627.00" r="0.90" fill="#000"/>
<text x="515.20" y="624.30" font-size="5.5" text-anchor="end" fill="#111" stroke="#111">NBL-S</text>
<rect x="390.8" y="504.5" width="105.2" height="47.5" fill="#fff" stroke="#a8a8a8" stroke-width="0.8"/>
<circle cx="398.90" cy="513.00" r="6.50" fill="#000"/>
<circle cx="399.20" cy="527.00" r="4.00" fill="#000"/>
<circle cx="399.00" cy="537.00" r="2.50" fill="#000"/>
<circle cx="399.00" cy="546.30" r="0.80" fill="#000"/>
<text x="407.60" y="516.20" font-size="7.3" fill="#111" stroke="#111">Very high</text>
<text x="407.60" y="530.20" font-size="7.3" fill="#111" stroke="#111">High</text>
<text x="407.60" y="540.00" font-size="7.3" fill="#111" stroke="#111">Moderate</text>
<text x="407.60" y="549.40" font-size="7.3" fill="#111" stroke="#111">Low</text>
<line x1="441.00" y1="512.60" x2="441.00" y2="548.40" stroke="#999" stroke-width="0.8"/>
<text x="443.60" y="528.40" font-size="7.5" fill="#111" stroke="#111">D3-GPC2-IgG1</text>
<text x="443.60" y="537.80" font-size="7.5" fill="#111" stroke="#111">Internalization</text>
</g>
</g>
</svg>
</body></html>
